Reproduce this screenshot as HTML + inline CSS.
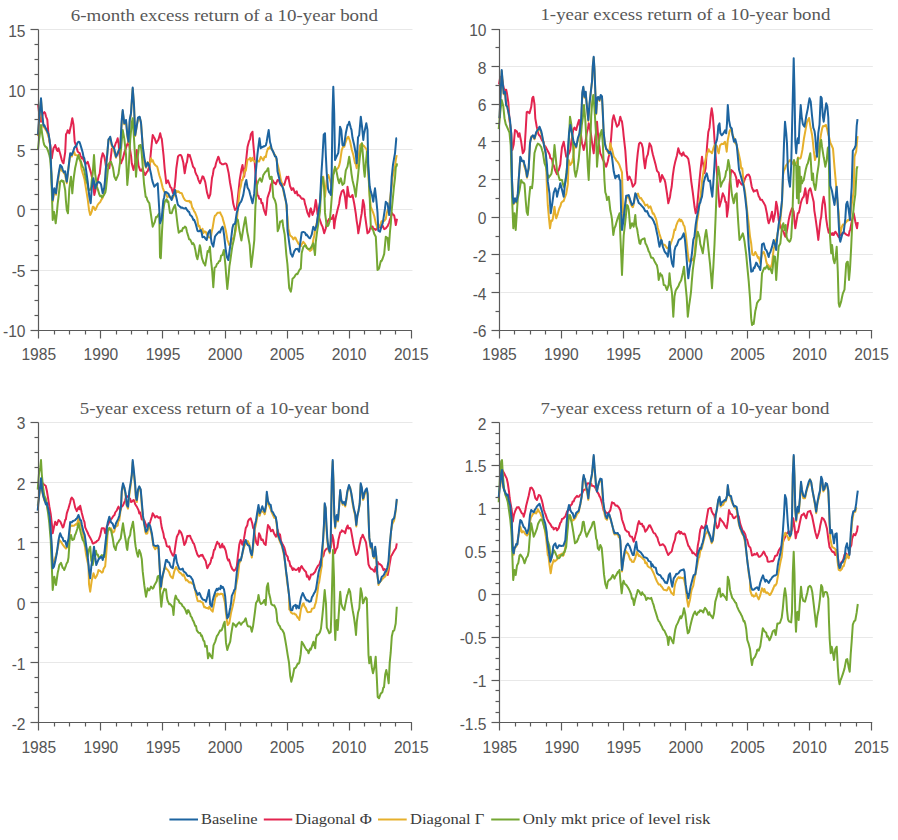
<!DOCTYPE html>
<html><head><meta charset="utf-8"><style>
html,body{margin:0;padding:0;background:#fff;}
svg{display:block;}
.tk{font-family:"Liberation Sans",sans-serif;font-size:15.6px;fill:#555555;}
.tt{font-family:"Liberation Serif",serif;font-size:17px;fill:#585858;}
.lg{font-family:"Liberation Serif",serif;font-size:15px;fill:#3a3a3a;}
</style></head><body>
<svg width="898" height="840" viewBox="0 0 898 840">
<rect width="898" height="840" fill="#fff"/>
<line x1="39.5" y1="270.5" x2="412.5" y2="270.5" stroke="#e8e8e8" stroke-width="1"/>
<line x1="39.5" y1="209.5" x2="412.5" y2="209.5" stroke="#e8e8e8" stroke-width="1"/>
<line x1="39.5" y1="149.5" x2="412.5" y2="149.5" stroke="#e8e8e8" stroke-width="1"/>
<line x1="39.5" y1="89.5" x2="412.5" y2="89.5" stroke="#e8e8e8" stroke-width="1"/>
<line x1="39.5" y1="29.5" x2="412.5" y2="29.5" stroke="#e8e8e8" stroke-width="1"/>
<polyline points="38.0,104.0 39.3,114.5 40.1,118.0 41.0,121.7 42.7,113.9 44.3,112.1 45.2,113.2 46.0,116.6 47.3,119.7 48.5,134.8 49.4,140.8 50.2,144.5 51.8,158.3 52.5,153.6 53.5,148.3 54.6,146.5 55.2,145.0 56.8,150.0 57.7,151.0 58.5,148.3 60.2,153.7 61.8,160.1 62.8,162.6 63.5,163.3 65.2,152.2 66.0,134.2 67.0,132.7 67.7,130.2 69.3,133.3 70.1,129.2 71.0,125.4 72.3,118.3 73.5,124.6 74.7,141.7 76.0,145.6 77.7,151.6 78.4,152.2 79.7,153.1 80.4,155.6 81.8,158.4 82.5,157.3 83.5,159.7 84.3,161.5 86.0,163.6 86.6,163.3 87.7,161.7 88.7,165.1 89.3,167.1 91.0,172.9 91.8,176.5 92.7,179.2 94.3,195.0 96.0,187.5 97.0,184.6 98.0,179.1 99.0,175.1 99.7,173.7 101.3,159.1 102.7,153.3 104.3,156.5 105.3,161.8 106.0,166.7 107.7,164.5 108.4,166.0 109.3,168.3 110.4,160.7 111.8,148.8 112.5,148.6 113.5,147.3 114.3,147.3 116.0,142.5 116.6,141.9 117.7,138.3 118.7,144.0 119.3,153.2 121.0,163.3 121.8,161.0 122.7,159.3 124.3,152.7 126.0,147.9 126.8,145.5 128.5,141.7 130.2,150.6 131.1,156.2 131.8,163.5 133.5,170.0 134.2,166.9 135.2,162.4 136.8,150.0 138.5,165.5 139.4,168.1 140.2,170.5 141.5,170.7 142.7,168.3 143.5,171.3 145.2,175.0 146.8,172.0 147.7,171.1 148.7,168.0 149.3,169.1 151.0,151.1 151.8,143.2 152.7,135.0 153.9,137.2 154.7,138.5 156.3,143.3 157.0,142.1 158.5,139.4 160.2,133.3 161.1,137.4 161.8,139.0 163.5,154.9 164.7,169.1 165.3,174.5 166.3,183.3 167.3,181.7 168.0,180.4 169.7,185.0 170.4,187.3 171.3,187.6 173.0,193.3 174.7,187.0 175.6,177.3 176.3,168.5 178.0,156.5 178.7,155.6 179.7,155.1 180.8,154.9 181.7,156.4 183.3,162.5 184.7,173.3 186.3,163.7 187.0,162.1 188.0,154.5 189.1,156.1 189.7,155.0 191.3,160.3 192.2,163.5 193.0,166.6 194.7,168.7 195.3,172.1 196.3,174.4 197.3,176.1 198.3,179.6 200.0,183.3 201.7,178.9 202.5,176.4 203.3,176.7 204.6,180.1 205.3,182.3 207.0,192.4 207.7,194.8 208.7,198.3 210.3,194.3 212.0,178.0 212.9,174.4 213.7,169.1 215.3,166.6 216.0,163.3 217.0,160.3 218.3,156.7 219.1,158.5 220.0,162.6 221.1,163.4 222.0,164.3 223.7,164.2 225.3,163.4 226.3,163.9 227.0,165.5 228.7,173.3 230.0,182.5 231.7,191.7 232.5,198.3 233.3,203.8 235.0,210.0 235.6,209.0 236.7,208.6 238.0,196.3 238.7,189.7 239.7,180.0 241.3,170.1 242.5,165.0 244.2,176.7 244.9,170.9 245.8,163.3 247.5,147.1 249.1,141.1 250.1,139.1 250.8,134.4 252.5,131.7 253.2,142.6 254.2,154.2 255.8,178.8 257.5,195.6 258.4,195.7 259.2,198.7 260.8,198.9 261.5,203.2 262.5,202.9 263.6,208.5 264.2,210.6 265.8,215.0 266.7,206.6 267.5,197.9 269.2,192.6 269.8,191.1 270.8,185.2 271.8,183.0 272.5,180.0 274.2,183.1 275.0,183.0 275.8,184.3 277.5,180.0 279.1,180.4 280.0,183.6 281.2,185.5 282.2,183.8 283.2,184.3 284.2,185.0 285.3,181.3 286.7,176.7 287.4,178.1 288.3,176.7 290.0,185.9 291.7,190.0 292.5,188.5 293.3,188.3 295.0,193.3 295.6,192.7 296.7,191.3 297.7,195.4 298.3,195.0 299.8,195.8 300.8,197.6 301.9,198.7 302.5,198.4 304.2,199.6 305.0,203.9 305.8,206.3 307.5,212.9 309.2,216.7 310.1,209.9 310.8,208.3 312.5,215.0 313.2,212.9 314.2,210.8 315.8,200.0 316.7,206.0 317.5,214.2 318.4,214.8 319.2,217.8 320.8,222.5 321.5,224.7 322.5,226.6 324.2,233.3 325.8,228.3 326.7,223.8 327.5,221.7 329.2,218.7 329.8,219.3 330.8,218.7 331.7,219.0 333.3,215.0 334.2,228.3 335.0,221.5 335.8,217.2 337.5,210.0 339.2,203.4 340.0,197.5 341.7,191.4 343.3,190.0 344.3,193.6 345.0,197.0 346.3,208.3 347.5,186.7 348.4,192.8 349.2,196.6 350.8,197.1 351.5,195.9 352.5,195.0 354.2,203.5 355.8,213.6 356.7,221.1 357.5,225.8 358.3,233.3 360.0,223.6 360.8,218.2 361.7,213.4 363.0,200.0 364.2,205.2 365.0,215.2 365.8,221.0 367.5,233.3 369.2,231.8 370.1,228.6 370.8,226.7 372.5,226.4 373.2,228.8 374.2,228.7 375.8,229.9 377.5,227.2 378.4,227.2 379.2,226.8 380.8,227.8 381.5,227.1 382.5,225.5 384.2,229.1 385.8,228.3 386.7,227.1 387.5,226.3 389.2,222.3 389.8,219.9 390.8,217.5 391.9,212.9 392.5,214.1 394.2,215.6 395.0,219.8 395.8,225.0 397.0,218.8" fill="none" stroke="#e3244f" stroke-width="2.0" stroke-linejoin="round"/>
<polyline points="38.0,136.1 39.0,123.2 39.7,114.3 41.0,99.8 42.3,117.3 43.5,127.3 44.2,126.0 45.2,129.0 46.8,131.6 48.5,136.5 49.4,140.1 50.2,146.3 51.8,185.6 52.7,201.5 53.5,197.1 54.3,189.8 56.0,194.8 56.6,188.9 57.7,183.5 58.7,175.9 60.2,166.5 61.8,170.8 62.7,170.5 63.9,173.0 65.2,174.5 65.9,179.1 66.8,183.2 68.5,167.7 70.2,154.8 71.1,155.9 71.8,156.5 73.5,151.5 74.2,152.2 75.2,155.1 76.8,155.3 78.5,156.9 79.4,157.5 80.2,159.7 81.5,169.0 82.7,173.2 83.5,175.8 84.6,179.8 85.2,183.8 86.8,193.6 87.7,199.2 89.0,209.7 90.2,215.0 90.8,213.9 91.8,211.4 92.8,206.8 93.5,206.7 95.2,210.0 95.9,208.9 97.0,206.3 97.7,204.8 99.0,203.2 100.2,202.1 101.1,200.1 102.7,197.7 104.3,193.0 105.3,180.5 106.0,166.9 107.3,153.4 108.5,140.0 109.4,138.4 110.2,137.7 111.8,146.0 112.5,147.1 113.5,149.8 114.3,152.1 116.0,157.7 116.6,155.3 117.7,152.1 118.7,150.4 120.2,147.7 120.8,138.9 121.8,121.7 122.7,111.0 124.3,124.3 126.0,121.0 127.3,136.2 128.5,142.7 129.7,122.0 131.0,114.0 131.8,101.2 132.7,88.5 134.0,105.5 135.2,136.0 136.8,126.1 138.0,120.1 139.7,117.7 141.0,122.4 142.7,144.8 143.5,155.3 144.3,162.9 146.0,167.7 146.6,166.0 147.7,162.1 148.7,163.6 149.3,166.0 151.0,158.3 151.8,161.6 152.7,160.2 153.9,163.3 155.2,165.1 156.0,165.8 157.0,166.3 157.7,168.4 159.3,175.3 160.7,179.5 162.7,187.8 164.2,191.7 165.0,192.7 166.3,194.9 167.3,197.0 168.3,196.6 169.4,196.6 170.4,196.6 171.7,198.3 172.5,198.5 173.5,196.4 175.0,194.7 175.6,193.0 176.7,190.8 177.7,191.9 178.3,191.3 179.8,192.8 180.8,193.1 181.8,193.3 183.3,197.2 184.9,200.0 185.8,200.6 187.0,201.1 188.3,201.2 189.1,200.8 190.1,202.5 190.8,201.6 192.2,207.4 193.3,209.1 194.2,211.5 195.0,212.3 196.7,216.7 197.3,218.5 198.3,226.2 199.4,225.8 200.8,231.2 201.5,231.7 202.5,228.8 203.3,233.3 204.6,231.3 205.8,231.9 206.7,234.2 207.7,235.7 208.3,237.3 209.8,237.4 210.8,237.5 211.8,231.1 212.5,228.6 214.2,218.2 214.9,215.7 215.8,215.3 217.5,212.8 219.2,212.8 220.1,212.4 220.8,214.0 222.5,217.4 223.2,220.4 224.2,223.7 225.8,230.5 227.5,240.0 228.4,242.5 229.2,245.0 230.8,244.2 231.5,240.3 232.5,238.8 233.6,237.8 234.2,236.6 235.8,230.2 236.7,221.7 237.5,213.2 239.2,194.0 239.8,189.4 240.8,186.1 241.8,180.1 242.5,180.2 244.2,173.2 244.9,169.7 245.8,170.8 247.5,159.4 249.2,159.3 250.1,157.9 250.8,161.2 252.5,157.8 253.2,160.6 254.2,160.9 255.8,162.5 257.5,160.5 258.4,161.4 259.2,161.4 260.8,156.9 261.5,157.9 262.5,159.0 263.3,160.3 264.6,156.7 265.8,157.2 266.7,152.4 268.0,148.3 268.7,148.9 270.0,146.6 270.8,148.4 272.0,149.3 272.9,151.1 274.2,154.3 275.0,154.7 275.8,157.1 277.5,163.9 279.2,171.0 280.1,176.0 280.8,179.9 282.5,184.8 283.2,189.5 284.2,195.1 285.8,200.9 287.4,216.6 288.3,228.2 290.0,235.3 291.7,236.7 292.5,237.7 293.3,239.4 295.0,237.4 295.6,238.0 296.7,240.5 297.7,242.1 298.3,243.5 300.0,245.2 300.8,246.2 301.7,244.4 303.3,241.8 305.0,243.8 306.0,246.3 306.7,247.6 308.3,249.3 309.1,249.8 310.0,251.0 311.7,249.8 313.3,240.0 314.3,235.4 315.0,230.3 316.7,223.0 317.4,219.5 318.3,215.6 320.0,202.4 321.7,185.3 322.5,178.9 323.3,176.7 325.0,196.7 325.7,189.3 326.7,180.4 327.7,176.1 328.3,175.0 330.0,180.0 330.8,183.0 331.7,186.7 333.3,173.2 333.9,171.0 335.0,168.3 336.0,169.7 336.7,169.7 338.3,167.7 339.1,165.7 340.0,162.1 341.7,150.3 343.3,145.8 344.3,146.8 345.0,143.8 346.7,139.2 347.4,137.6 348.3,136.7 350.0,141.0 351.7,149.4 352.6,152.6 353.3,155.0 355.0,163.1 355.7,163.9 356.7,168.3 357.7,161.3 358.3,159.9 360.0,145.5 360.8,144.2 361.7,143.5 363.3,145.9 363.9,145.7 365.0,147.3 366.0,148.6 366.7,149.3 368.3,173.5 369.7,195.7 370.8,207.0 371.7,209.2 373.3,213.0 374.3,216.2 375.8,223.3 377.5,228.3 378.4,227.4 379.2,226.4 380.8,223.7 381.5,221.3 382.5,221.7 384.2,220.9 385.8,218.8 386.7,213.4 387.5,210.5 389.2,207.0 389.8,200.2 390.8,192.9 391.9,184.9 392.5,177.7 393.9,170.5 395.0,166.6 395.8,159.7 396.7,155.1" fill="none" stroke="#e6b02c" stroke-width="2.0" stroke-linejoin="round"/>
<polyline points="38.0,149.4 39.0,139.8 39.7,135.5 41.0,125.0 42.3,134.8 43.5,141.9 44.2,144.7 45.2,146.4 46.8,147.6 48.5,152.1 49.4,155.2 50.2,159.0 51.3,173.8 52.7,220.0 54.0,211.7 55.7,223.3 56.8,213.7 57.7,203.7 58.5,197.1 60.2,181.6 61.8,180.4 62.8,181.8 63.5,181.0 65.2,190.2 65.9,200.5 66.8,210.2 68.0,213.3 69.3,189.0 70.1,182.5 71.0,176.7 72.3,193.3 73.2,183.0 74.0,176.0 75.2,167.7 76.0,164.2 77.3,158.0 78.5,155.0 79.4,159.2 81.0,161.8 82.5,166.7 83.5,167.9 84.6,172.1 86.0,179.7 86.6,181.4 87.7,185.0 88.5,190.0 89.7,190.1 91.0,188.4 91.8,180.0 92.7,173.7 94.0,155.0 95.2,174.1 95.9,178.5 96.8,186.2 98.0,189.9 99.3,194.4 100.1,196.1 101.1,195.6 101.8,197.5 103.2,196.1 104.3,194.3 105.3,192.6 106.0,188.5 107.3,175.7 108.5,164.5 109.4,162.9 111.0,161.7 113.0,167.8 114.3,176.5 116.0,180.0 116.6,178.4 117.7,175.9 118.5,173.8 120.2,160.8 120.8,151.4 121.8,140.3 122.7,130.0 124.3,138.6 126.0,154.5 127.3,185.0 128.5,171.8 130.2,140.2 131.1,130.3 131.8,122.4 132.7,118.3 134.3,143.4 135.3,161.3 136.0,176.7 137.3,159.4 138.4,152.1 139.0,145.7 140.7,145.0 141.5,151.2 142.3,160.6 144.0,183.5 145.7,196.9 146.6,197.4 147.3,199.9 148.7,202.4 149.3,203.1 151.0,214.9 151.8,220.6 152.7,226.7 153.9,223.9 154.7,222.3 156.0,216.9 156.8,217.2 158.0,215.2 159.3,213.3 160.0,257.2 160.8,258.3 162.0,231.6 163.3,210.3 164.2,204.2 165.0,201.1 166.7,199.3 167.3,202.0 168.3,201.4 170.0,213.1 171.7,213.3 172.5,210.7 173.3,208.5 175.0,205.0 175.6,208.1 176.7,217.5 177.7,225.8 178.7,232.7 179.8,231.9 180.8,230.7 181.8,231.2 182.9,228.1 183.9,228.0 184.9,226.5 186.0,227.4 187.0,232.0 188.1,235.6 189.1,239.3 190.1,239.5 191.2,241.6 192.2,244.1 193.2,243.1 194.3,245.2 195.3,249.7 196.3,255.6 197.4,259.2 198.4,254.6 199.8,245.2 200.5,248.1 201.5,255.8 202.1,258.6 203.6,262.8 204.6,264.2 205.2,265.5 206.7,256.9 207.6,251.1 208.7,251.7 209.9,246.8 210.8,258.3 212.2,270.9 213.3,287.3 214.6,267.8 216.0,266.7 216.9,264.0 218.0,263.2 219.2,260.9 220.1,261.1 221.1,255.7 222.4,255.1 223.2,252.3 223.9,249.9 225.5,266.2 226.3,277.2 227.3,288.9 228.6,275.9 229.4,266.4 230.2,261.3 231.7,250.4 232.5,245.4 234.1,238.6 235.6,225.7 236.4,218.7 237.9,219.8 238.7,225.3 239.5,230.9 241.4,240.5 243.4,227.9 245.4,217.2 247.3,232.1 248.0,235.5 249.7,245.1 251.2,267.0 252.8,254.1 254.3,240.2 255.4,207.0 256.3,194.5 257.0,185.3 258.3,181.1 260.0,178.2 261.7,181.7 262.5,178.7 263.3,175.1 265.0,172.5 265.6,171.6 266.7,171.0 267.7,168.5 268.3,168.3 269.2,176.3 270.0,179.1 270.8,177.0 271.7,176.7 273.3,197.2 275.0,200.5 276.1,204.4 277.0,217.9 277.7,231.2 279.1,227.6 280.1,221.6 281.2,221.7 282.4,220.3 283.2,226.7 284.7,234.8 286.3,254.3 287.4,264.0 288.4,277.4 289.2,288.1 290.8,291.7 291.5,288.0 292.5,278.7 294.2,277.3 295.8,274.6 296.7,273.7 297.5,274.1 299.2,270.4 299.8,269.4 300.8,268.7 301.7,252.9 303.3,246.9 305.0,245.3 306.0,245.9 306.7,248.0 308.3,248.9 309.1,248.9 310.0,248.8 311.7,246.4 313.3,243.3 314.3,250.4 315.0,255.0 315.8,241.8 316.7,234.7 317.4,229.7 318.3,223.9 320.0,211.1 320.8,193.5 321.7,176.7 323.0,177.8 324.2,187.8 325.0,212.9 325.7,217.9 326.7,226.3 327.7,226.1 328.3,225.4 329.7,221.1 330.8,209.7 332.0,194.0 333.3,174.4 333.9,173.4 335.0,166.7 336.0,169.8 336.7,172.4 338.0,179.4 339.2,183.3 340.1,179.6 340.8,178.3 342.5,185.0 343.2,184.1 344.2,183.3 345.8,170.4 347.5,166.7 348.4,161.3 349.2,156.7 350.8,167.7 351.5,173.8 352.5,180.2 354.2,187.3 355.8,196.7 356.7,187.0 357.7,178.9 358.3,173.0 359.7,158.4 360.8,149.5 362.0,143.3 363.3,160.2 363.9,169.4 364.7,176.7 365.8,163.5 367.0,151.7 368.3,167.0 369.7,196.7 370.8,226.9 372.5,229.5 373.2,230.2 374.2,233.8 375.8,236.8 376.7,253.4 377.5,270.0 378.4,269.5 379.2,268.0 380.8,260.9 381.5,261.2 382.5,259.0 384.2,253.9 385.8,236.7 386.7,237.8 387.5,237.7 388.7,250.0 390.0,231.3 390.8,223.7 391.7,210.4 393.3,193.7 393.9,187.2 395.0,178.1 395.8,167.2 396.7,165.8 397.0,163.3" fill="none" stroke="#74a733" stroke-width="2.0" stroke-linejoin="round"/>
<polyline points="38.0,134.6 39.0,119.5 39.7,113.3 41.0,98.3 42.3,115.0 43.5,125.7 44.2,125.0 45.2,127.2 46.8,130.3 48.5,133.9 49.4,138.6 50.2,145.5 51.8,182.7 52.7,200.0 53.5,194.3 54.3,188.3 56.0,193.3 56.6,187.5 57.7,179.7 58.7,173.3 60.2,165.0 61.8,166.6 62.7,169.6 63.9,172.3 65.2,171.4 65.9,177.1 66.8,181.7 68.5,167.6 70.2,153.3 71.1,153.4 71.8,155.0 73.5,150.7 74.2,148.1 75.2,146.5 76.0,146.8 77.3,143.2 78.5,141.7 79.4,141.9 80.2,144.0 81.5,148.4 82.7,152.5 83.5,156.7 84.3,158.2 86.0,169.3 86.6,173.6 87.7,181.7 88.7,191.0 89.3,196.3 90.7,203.3 91.8,187.8 92.8,180.3 93.5,178.3 95.2,188.3 95.9,185.9 96.8,183.5 98.5,181.8 100.1,182.9 101.0,184.2 102.7,193.3 104.3,187.5 105.3,177.0 106.0,166.6 107.3,153.9 108.5,139.4 109.4,138.3 110.2,136.7 111.8,144.4 112.5,145.9 113.5,147.6 114.3,149.0 116.0,156.7 116.6,155.8 117.7,153.3 118.7,150.5 120.2,147.8 120.8,136.3 121.8,119.4 122.7,110.0 124.3,123.3 126.0,120.0 127.3,134.3 128.5,141.7 129.7,119.8 131.0,113.1 131.8,100.8 132.7,87.5 134.0,105.0 135.2,135.0 136.8,125.6 138.0,117.7 139.7,116.7 141.0,122.8 142.7,146.1 143.5,151.8 144.3,157.6 146.0,166.7 146.6,166.0 147.7,162.6 148.7,164.1 149.3,166.6 151.0,173.8 151.8,178.2 152.7,182.2 154.3,186.7 156.0,184.8 157.0,183.9 157.7,183.3 159.1,206.9 160.0,223.3 161.7,218.5 163.3,200.5 164.2,197.2 165.0,192.0 166.7,192.2 167.3,193.2 168.3,193.5 170.0,197.3 171.7,200.0 172.5,196.0 173.3,195.3 175.0,190.0 175.6,194.2 176.7,199.0 177.7,204.1 178.3,205.3 179.8,206.5 180.8,207.7 181.8,207.5 183.3,208.2 184.9,208.5 185.8,207.8 187.0,209.9 188.3,211.5 189.1,211.9 190.1,215.0 190.8,215.3 192.2,217.0 193.3,219.9 194.2,219.8 195.8,224.2 197.5,230.8 198.4,231.3 199.2,231.2 200.8,230.0 201.5,232.0 202.5,237.3 203.6,236.9 204.2,236.7 205.6,238.9 206.7,240.0 207.7,235.2 208.3,232.5 210.0,230.0 210.8,237.6 211.7,243.0 213.3,246.7 215.0,236.5 216.0,235.1 217.5,233.4 219.1,231.6 220.0,232.6 221.1,229.3 222.5,226.7 223.2,228.8 224.2,235.9 225.8,250.5 227.0,257.3 228.3,260.0 230.0,247.6 231.7,233.9 232.5,227.7 233.3,224.7 235.0,223.7 235.6,220.5 236.7,213.1 237.7,209.6 238.3,206.8 240.0,202.9 240.8,202.1 241.7,200.2 243.3,194.9 245.0,184.4 246.3,180.0 247.5,187.5 249.2,190.5 250.1,194.2 250.8,196.8 252.5,203.3 253.2,199.9 254.2,193.9 255.3,177.4 256.7,162.5 257.4,154.6 258.3,147.3 259.5,138.3 260.8,148.3 261.5,147.1 262.5,147.3 263.6,146.2 264.2,146.4 265.8,145.5 266.7,141.7 267.5,136.4 268.7,130.0 270.0,142.0 270.8,144.7 271.7,149.0 273.3,151.9 275.0,156.3 276.0,156.6 276.7,159.1 277.5,171.2 279.2,178.3 280.1,183.1 280.8,183.2 282.2,186.4 283.3,189.0 284.3,193.3 285.0,196.8 286.7,205.1 287.5,230.5 288.4,236.5 289.2,242.8 290.8,253.9 291.5,254.7 292.5,256.7 294.2,251.4 295.8,249.0 296.7,248.9 297.5,248.8 299.2,251.7 299.8,246.5 300.8,239.0 301.7,232.5 303.3,231.9 305.0,232.6 306.0,235.2 306.7,234.5 308.3,236.9 309.1,237.8 310.0,238.3 311.7,234.6 313.3,226.7 314.3,228.4 315.0,230.0 316.7,224.8 317.4,218.8 318.3,212.1 320.0,201.8 320.8,185.4 321.5,171.9 322.5,156.5 323.7,134.7 325.0,133.3 325.8,154.6 326.7,172.6 328.0,188.6 329.2,192.5 329.8,192.5 330.8,195.0 331.7,172.1 332.5,113.2 333.3,86.7 334.2,112.8 335.0,160.0 336.0,157.8 336.7,156.2 338.3,152.9 339.2,142.5 340.0,126.7 341.3,130.1 342.5,145.2 343.2,145.5 344.2,145.0 345.8,133.3 347.5,125.2 348.4,124.6 349.2,121.7 350.8,127.8 351.5,129.8 352.5,137.8 354.2,145.0 355.8,154.0 356.7,163.3 358.0,137.4 359.2,135.1 359.8,128.1 360.8,116.7 362.0,126.3 363.3,140.0 363.9,134.6 364.7,130.8 366.3,123.3 367.5,129.9 368.3,166.5 369.7,186.5 370.8,191.4 372.0,195.3 373.3,201.7 374.3,192.6 375.0,188.3 376.3,199.7 377.5,212.4 378.3,230.6 380.0,231.7 381.7,225.4 382.6,223.6 383.3,219.6 385.0,208.4 385.8,201.7 386.7,203.3 387.5,203.2 389.2,215.0 390.0,209.0 390.8,193.4 391.7,177.1 393.0,164.6 393.9,159.4 395.0,153.3 396.3,138.3 397.0,138.2" fill="none" stroke="#1d64a0" stroke-width="2.0" stroke-linejoin="round"/>
<line x1="38.5" y1="29.5" x2="38.5" y2="331.0" stroke="#5a5a5a" stroke-width="1.2"/>
<line x1="38.0" y1="330.5" x2="411.9" y2="330.5" stroke="#5a5a5a" stroke-width="1.2"/>
<line x1="30.5" y1="330.5" x2="38.5" y2="330.5" stroke="#5a5a5a" stroke-width="1.2"/>
<text x="25.5" y="337.3" text-anchor="end" class="tk">-10</text>
<line x1="34.5" y1="315.5" x2="38.5" y2="315.5" stroke="#5a5a5a" stroke-width="1.2"/>
<line x1="34.5" y1="300.5" x2="38.5" y2="300.5" stroke="#5a5a5a" stroke-width="1.2"/>
<line x1="34.5" y1="285.5" x2="38.5" y2="285.5" stroke="#5a5a5a" stroke-width="1.2"/>
<line x1="30.5" y1="270.5" x2="38.5" y2="270.5" stroke="#5a5a5a" stroke-width="1.2"/>
<text x="25.5" y="277.1" text-anchor="end" class="tk">-5</text>
<line x1="34.5" y1="255.5" x2="38.5" y2="255.5" stroke="#5a5a5a" stroke-width="1.2"/>
<line x1="34.5" y1="240.5" x2="38.5" y2="240.5" stroke="#5a5a5a" stroke-width="1.2"/>
<line x1="34.5" y1="225.5" x2="38.5" y2="225.5" stroke="#5a5a5a" stroke-width="1.2"/>
<line x1="30.5" y1="209.5" x2="38.5" y2="209.5" stroke="#5a5a5a" stroke-width="1.2"/>
<text x="25.5" y="217.0" text-anchor="end" class="tk">0</text>
<line x1="34.5" y1="194.5" x2="38.5" y2="194.5" stroke="#5a5a5a" stroke-width="1.2"/>
<line x1="34.5" y1="179.5" x2="38.5" y2="179.5" stroke="#5a5a5a" stroke-width="1.2"/>
<line x1="34.5" y1="164.5" x2="38.5" y2="164.5" stroke="#5a5a5a" stroke-width="1.2"/>
<line x1="30.5" y1="149.5" x2="38.5" y2="149.5" stroke="#5a5a5a" stroke-width="1.2"/>
<text x="25.5" y="156.8" text-anchor="end" class="tk">5</text>
<line x1="34.5" y1="134.5" x2="38.5" y2="134.5" stroke="#5a5a5a" stroke-width="1.2"/>
<line x1="34.5" y1="119.5" x2="38.5" y2="119.5" stroke="#5a5a5a" stroke-width="1.2"/>
<line x1="34.5" y1="104.5" x2="38.5" y2="104.5" stroke="#5a5a5a" stroke-width="1.2"/>
<line x1="30.5" y1="89.5" x2="38.5" y2="89.5" stroke="#5a5a5a" stroke-width="1.2"/>
<text x="25.5" y="96.7" text-anchor="end" class="tk">10</text>
<line x1="34.5" y1="74.5" x2="38.5" y2="74.5" stroke="#5a5a5a" stroke-width="1.2"/>
<line x1="34.5" y1="59.5" x2="38.5" y2="59.5" stroke="#5a5a5a" stroke-width="1.2"/>
<line x1="34.5" y1="44.5" x2="38.5" y2="44.5" stroke="#5a5a5a" stroke-width="1.2"/>
<line x1="30.5" y1="29.5" x2="38.5" y2="29.5" stroke="#5a5a5a" stroke-width="1.2"/>
<text x="25.5" y="36.5" text-anchor="end" class="tk">15</text>
<line x1="38.5" y1="330.5" x2="38.5" y2="338.5" stroke="#5a5a5a" stroke-width="1.2"/>
<text x="38.8" y="360.2" text-anchor="middle" class="tk">1985</text>
<line x1="54.5" y1="330.5" x2="54.5" y2="334.5" stroke="#5a5a5a" stroke-width="1.2"/>
<line x1="69.5" y1="330.5" x2="69.5" y2="334.5" stroke="#5a5a5a" stroke-width="1.2"/>
<line x1="85.5" y1="330.5" x2="85.5" y2="334.5" stroke="#5a5a5a" stroke-width="1.2"/>
<line x1="100.5" y1="330.5" x2="100.5" y2="338.5" stroke="#5a5a5a" stroke-width="1.2"/>
<text x="100.9" y="360.2" text-anchor="middle" class="tk">1990</text>
<line x1="116.5" y1="330.5" x2="116.5" y2="334.5" stroke="#5a5a5a" stroke-width="1.2"/>
<line x1="131.5" y1="330.5" x2="131.5" y2="334.5" stroke="#5a5a5a" stroke-width="1.2"/>
<line x1="147.5" y1="330.5" x2="147.5" y2="334.5" stroke="#5a5a5a" stroke-width="1.2"/>
<line x1="162.5" y1="330.5" x2="162.5" y2="338.5" stroke="#5a5a5a" stroke-width="1.2"/>
<text x="163.0" y="360.2" text-anchor="middle" class="tk">1995</text>
<line x1="178.5" y1="330.5" x2="178.5" y2="334.5" stroke="#5a5a5a" stroke-width="1.2"/>
<line x1="194.5" y1="330.5" x2="194.5" y2="334.5" stroke="#5a5a5a" stroke-width="1.2"/>
<line x1="209.5" y1="330.5" x2="209.5" y2="334.5" stroke="#5a5a5a" stroke-width="1.2"/>
<line x1="225.5" y1="330.5" x2="225.5" y2="338.5" stroke="#5a5a5a" stroke-width="1.2"/>
<text x="225.1" y="360.2" text-anchor="middle" class="tk">2000</text>
<line x1="240.5" y1="330.5" x2="240.5" y2="334.5" stroke="#5a5a5a" stroke-width="1.2"/>
<line x1="256.5" y1="330.5" x2="256.5" y2="334.5" stroke="#5a5a5a" stroke-width="1.2"/>
<line x1="271.5" y1="330.5" x2="271.5" y2="334.5" stroke="#5a5a5a" stroke-width="1.2"/>
<line x1="287.5" y1="330.5" x2="287.5" y2="338.5" stroke="#5a5a5a" stroke-width="1.2"/>
<text x="287.1" y="360.2" text-anchor="middle" class="tk">2005</text>
<line x1="302.5" y1="330.5" x2="302.5" y2="334.5" stroke="#5a5a5a" stroke-width="1.2"/>
<line x1="318.5" y1="330.5" x2="318.5" y2="334.5" stroke="#5a5a5a" stroke-width="1.2"/>
<line x1="333.5" y1="330.5" x2="333.5" y2="334.5" stroke="#5a5a5a" stroke-width="1.2"/>
<line x1="349.5" y1="330.5" x2="349.5" y2="338.5" stroke="#5a5a5a" stroke-width="1.2"/>
<text x="349.2" y="360.2" text-anchor="middle" class="tk">2010</text>
<line x1="364.5" y1="330.5" x2="364.5" y2="334.5" stroke="#5a5a5a" stroke-width="1.2"/>
<line x1="380.5" y1="330.5" x2="380.5" y2="334.5" stroke="#5a5a5a" stroke-width="1.2"/>
<line x1="395.5" y1="330.5" x2="395.5" y2="334.5" stroke="#5a5a5a" stroke-width="1.2"/>
<line x1="411.5" y1="330.5" x2="411.5" y2="338.5" stroke="#5a5a5a" stroke-width="1.2"/>
<text x="411.3" y="360.2" text-anchor="middle" class="tk">2015</text>
<text x="224.4" y="20.7" text-anchor="middle" class="tt" textLength="307.3" lengthAdjust="spacingAndGlyphs">6-month excess return of a 10-year bond</text>
<line x1="500.5" y1="292.5" x2="872.8" y2="292.5" stroke="#e8e8e8" stroke-width="1"/>
<line x1="500.5" y1="254.5" x2="872.8" y2="254.5" stroke="#e8e8e8" stroke-width="1"/>
<line x1="500.5" y1="217.5" x2="872.8" y2="217.5" stroke="#e8e8e8" stroke-width="1"/>
<line x1="500.5" y1="179.5" x2="872.8" y2="179.5" stroke="#e8e8e8" stroke-width="1"/>
<line x1="500.5" y1="141.5" x2="872.8" y2="141.5" stroke="#e8e8e8" stroke-width="1"/>
<line x1="500.5" y1="104.5" x2="872.8" y2="104.5" stroke="#e8e8e8" stroke-width="1"/>
<line x1="500.5" y1="66.5" x2="872.8" y2="66.5" stroke="#e8e8e8" stroke-width="1"/>
<line x1="500.5" y1="29.5" x2="872.8" y2="29.5" stroke="#e8e8e8" stroke-width="1"/>
<polyline points="499.0,84.4 500.3,76.7 501.1,78.7 502.0,78.9 503.7,87.9 505.3,90.7 506.2,89.8 507.0,93.6 508.3,102.3 509.5,119.8 510.4,126.3 511.2,133.3 512.3,150.0 513.7,144.5 515.0,130.0 516.7,131.2 517.6,133.4 518.3,136.7 519.5,133.3 521.2,141.8 522.8,153.3 523.8,151.7 524.5,149.7 525.7,130.0 526.7,112.2 527.8,111.8 529.5,113.3 531.2,107.1 532.3,98.1 533.3,96.7 534.5,104.2 535.3,118.3 536.7,126.5 538.3,133.7 539.3,135.4 540.0,135.8 541.7,139.7 542.4,140.9 543.7,142.3 544.5,146.5 545.3,146.3 547.0,149.5 548.7,152.8 549.7,154.8 550.3,158.1 552.0,159.0 552.8,164.0 553.7,165.3 555.3,170.6 557.0,174.2 557.9,171.2 558.7,170.3 560.3,164.5 561.0,156.5 562.0,147.2 563.7,141.7 565.0,149.7 566.2,156.7 567.8,155.7 569.5,152.3 570.3,149.6 571.2,142.5 572.8,132.6 573.4,129.2 574.5,127.5 575.5,129.6 576.2,130.0 577.8,123.8 579.0,120.0 579.6,124.1 580.3,129.0 582.0,143.2 582.7,145.4 583.7,150.0 585.3,142.8 587.0,131.9 587.9,128.7 588.7,123.3 590.3,130.6 591.0,134.3 592.0,142.2 593.7,153.3 595.3,136.9 596.2,130.9 597.0,121.7 598.7,142.9 599.3,146.1 600.3,153.6 601.4,155.4 602.8,159.3 604.5,162.8 605.5,165.4 606.2,166.7 607.8,161.2 608.6,157.0 609.5,154.1 611.2,137.3 612.5,119.9 613.7,115.2 615.3,120.9 617.0,126.7 617.9,125.4 618.7,124.7 620.3,116.7 621.0,119.3 622.0,121.7 623.1,130.0 623.7,136.3 625.3,150.4 626.7,170.4 627.8,180.0 629.5,176.6 630.3,178.6 631.2,180.3 632.8,186.7 634.4,184.6 635.3,183.0 636.7,163.6 637.8,152.7 639.0,143.8 639.6,143.1 640.3,142.5 641.7,143.9 642.8,148.1 643.7,158.5 645.0,168.3 646.2,159.3 646.8,156.6 647.8,154.6 649.5,143.3 651.2,146.3 652.0,150.6 652.8,154.3 654.5,160.4 655.7,165.1 657.0,170.8 658.7,172.7 660.3,181.7 661.3,178.5 662.0,175.0 663.7,178.5 664.4,179.4 665.3,182.5 667.0,193.7 668.3,203.3 670.0,197.0 670.6,192.4 671.7,186.5 672.8,175.6 674.0,167.4 675.3,161.4 677.0,155.3 678.3,148.3 680.0,153.7 681.0,153.7 681.7,155.8 683.3,152.4 684.1,154.9 685.0,155.6 686.7,156.7 688.3,158.9 689.5,165.9 690.3,172.7 691.2,181.0 692.8,192.5 694.5,206.5 695.7,213.3 697.0,208.2 698.7,189.0 699.6,179.1 700.3,172.0 702.0,156.7 702.7,162.4 703.3,164.1 704.5,173.3 705.7,167.7 707.0,146.5 708.3,132.0 709.5,127.7 710.7,115.5 711.7,108.3 712.8,115.5 713.7,127.1 714.5,139.5 715.7,157.0 717.0,174.0 718.3,192.1 719.5,206.7 720.3,203.7 721.2,200.5 722.8,193.3 724.5,197.1 725.4,202.1 726.2,202.0 727.0,216.7 728.3,207.1 729.5,184.4 731.2,170.0 732.8,171.3 733.7,172.7 734.5,173.1 736.2,177.7 737.3,186.7 738.7,180.0 739.9,182.0 741.2,184.0 742.0,184.7 743.0,183.3 743.7,182.3 745.1,178.3 746.2,176.2 747.1,174.9 748.7,174.5 750.0,177.0 751.7,186.5 752.3,188.5 753.7,191.6 754.4,190.6 755.3,190.9 757.0,190.0 758.7,196.3 759.5,197.4 760.3,199.7 762.0,199.8 762.6,200.9 763.7,202.7 764.7,204.6 765.3,205.7 767.0,214.0 767.8,219.5 768.7,223.3 770.3,218.9 772.0,211.7 773.3,221.7 774.0,218.3 775.0,213.8 776.2,201.7 777.3,206.9 778.7,220.1 780.3,224.6 781.3,228.4 782.0,229.6 783.7,232.0 784.4,234.5 785.3,236.7 786.7,231.9 787.5,227.7 788.7,220.1 789.5,216.2 790.3,213.2 792.0,208.3 792.6,208.5 793.7,211.9 794.7,223.4 795.3,228.3 796.7,219.8 797.8,213.1 798.8,212.7 799.5,209.9 800.9,202.6 802.0,199.3 803.0,197.4 803.7,196.9 805.3,188.3 806.1,194.1 807.0,203.3 808.7,191.1 810.3,188.3 811.2,191.4 812.0,194.9 813.7,202.0 814.3,210.3 815.3,216.7 817.0,228.8 818.3,240.0 819.5,228.7 820.5,219.9 821.2,217.1 822.3,204.8 823.7,196.7 825.0,204.5 826.2,218.6 827.3,226.2 828.7,232.8 830.3,232.7 832.0,234.9 832.9,233.1 833.7,235.0 835.3,231.7 836.0,232.5 837.0,234.0 838.7,237.0 840.3,234.8 841.2,233.3 842.0,234.5 843.7,231.7 844.3,232.7 845.3,233.8 846.4,234.6 847.0,235.0 848.7,235.6 849.5,231.4 850.3,229.3 852.0,220.2 853.7,213.3 854.7,218.1 855.3,221.5 857.0,228.3 857.8,222.2" fill="none" stroke="#e3244f" stroke-width="2.0" stroke-linejoin="round"/>
<polyline points="499.5,118.7 500.7,94.1 501.7,71.0 502.8,84.5 503.7,94.3 505.0,92.7 506.2,105.5 507.3,106.7 508.7,114.1 510.0,122.9 511.2,134.9 512.0,180.1 512.8,196.8 513.7,204.3 515.0,199.3 516.2,202.7 517.1,198.7 517.8,194.9 518.7,180.2 520.3,157.7 521.2,159.8 522.0,160.8 523.7,161.8 524.3,166.3 525.3,168.9 526.4,174.5 527.0,177.7 528.7,168.9 530.0,142.9 531.2,136.5 532.8,137.0 533.6,137.8 534.5,139.3 536.2,133.3 537.8,129.4 538.8,130.2 539.5,127.7 541.2,133.0 541.9,135.7 542.8,139.5 544.5,146.8 545.7,154.5 547.0,189.2 547.8,205.2 549.0,218.7 550.0,228.3 551.2,220.4 552.2,220.8 552.8,218.9 554.5,206.7 555.3,213.5 556.2,218.3 557.8,213.8 558.4,211.4 559.5,207.9 560.5,206.1 561.2,203.0 562.8,201.2 563.6,201.2 564.5,198.4 566.2,193.8 567.8,184.4 568.7,160.0 570.3,165.0 572.0,162.5 572.9,157.9 573.7,152.8 574.5,144.3 576.2,147.7 577.0,143.0 577.8,141.2 579.5,133.8 580.1,128.2 581.2,121.2 582.3,94.5 583.3,87.7 584.5,97.7 585.7,92.7 586.3,100.4 587.0,107.7 588.3,121.0 589.5,106.1 590.7,92.9 592.0,82.1 592.8,67.0 593.7,57.7 594.5,71.0 595.3,92.1 596.2,114.3 597.0,101.1 597.7,98.2 598.3,97.8 599.5,101.0 600.7,96.0 602.0,96.9 602.8,114.7 603.7,134.7 605.0,143.3 606.2,148.5 607.0,151.2 607.8,151.6 609.0,154.3 610.3,143.3 611.2,147.3 612.0,149.0 613.7,156.5 615.3,158.5 616.2,160.4 617.4,161.5 618.7,163.6 619.4,165.0 620.3,167.6 622.0,172.3 623.3,223.2 624.5,211.4 626.2,198.5 627.7,196.8 628.7,196.5 630.3,202.9 632.0,206.5 632.9,207.2 633.7,204.5 635.3,194.4 636.0,194.5 637.0,194.9 638.0,193.6 638.7,196.1 640.1,198.4 641.2,198.1 642.2,200.2 643.7,202.1 645.3,205.6 646.2,204.9 647.3,204.6 648.7,207.9 649.4,207.1 650.4,206.3 651.2,208.6 652.8,213.6 653.5,213.3 654.5,215.3 656.2,219.5 657.8,227.9 658.7,231.1 659.5,234.1 661.2,239.3 661.8,241.5 662.8,244.9 663.9,244.8 664.5,244.7 666.0,246.7 667.0,248.2 668.0,247.8 669.5,247.7 671.2,242.3 672.2,239.1 672.8,237.9 674.5,229.4 675.3,229.9 676.2,225.6 677.8,221.5 679.5,219.1 680.4,221.3 681.2,219.8 682.8,222.4 683.5,225.0 684.5,226.3 685.7,233.8 687.0,245.4 687.7,252.2 688.3,257.6 689.5,261.7 691.2,260.7 691.8,258.6 692.8,260.1 693.9,257.5 694.5,255.6 695.7,239.0 697.0,221.9 698.3,214.7 699.5,202.5 700.7,195.3 702.0,181.1 703.7,169.9 705.3,160.5 706.3,155.8 707.0,153.6 708.7,149.3 709.4,151.5 710.3,151.4 712.0,153.3 713.7,147.3 714.5,145.3 715.3,144.7 717.0,146.3 717.7,150.7 718.7,153.3 720.0,145.7 720.8,144.6 721.7,143.7 723.3,144.1 725.0,141.7 725.9,146.3 726.7,151.7 727.8,140.1 729.5,131.2 731.2,128.3 732.1,133.8 732.8,135.5 734.5,139.5 735.2,143.2 736.2,144.0 737.8,149.6 739.5,157.2 740.4,161.6 741.2,168.5 742.3,168.2 743.7,185.0 744.5,188.5 745.3,193.6 747.0,209.6 747.6,214.6 748.7,223.7 750.0,236.5 751.2,243.5 752.3,254.5 753.7,255.2 755.3,252.0 757.0,255.5 758.0,257.9 758.7,257.1 760.3,263.3 761.1,258.6 762.0,254.0 763.7,251.7 765.3,256.4 766.2,261.4 767.0,264.1 768.7,265.6 769.3,267.1 770.3,268.3 772.0,263.8 773.7,248.6 774.5,246.5 775.3,241.7 777.0,237.5 777.6,233.0 778.7,229.1 779.7,223.3 780.3,221.1 782.0,202.8 783.0,175.3 783.8,170.8 784.9,168.8 786.0,165.4 786.9,164.4 788.0,162.8 789.0,161.4 790.0,160.0 791.1,160.7 792.1,162.2 793.1,163.9 794.0,165.0 795.2,163.9 796.2,163.0 797.3,161.2 798.0,157.4 799.3,158.5 800.4,158.5 801.0,156.9 802.4,149.9 804.0,138.2 805.5,130.1 807.0,121.9 809.0,118.0 809.7,122.4 810.7,128.3 812.0,134.5 812.8,141.0 813.8,150.9 815.0,160.0 815.9,157.0 816.9,155.4 818.0,151.6 819.0,147.2 820.0,141.4 821.0,134.4 822.1,128.7 823.0,126.1 824.1,126.2 825.2,125.4 826.0,125.0 827.2,129.2 828.3,134.5 829.0,136.7 830.3,142.7 831.4,145.0 833.0,148.7 834.5,167.4 835.5,178.4 836.5,190.4 837.6,203.6 838.6,212.6 839.6,226.3 840.3,233.3 842.0,226.4 842.8,224.6 843.7,225.1 845.3,223.0 847.0,221.0 847.9,220.0 848.7,220.4 850.3,217.8 851.0,210.2 852.0,202.3 853.7,191.3 854.5,156.6 855.2,154.4 856.2,151.5 857.5,136.1" fill="none" stroke="#e6b02c" stroke-width="2.0" stroke-linejoin="round"/>
<polyline points="498.7,129.2 499.7,118.6 500.3,112.1 501.7,100.0 503.3,106.3 504.5,118.2 505.7,124.0 507.0,126.8 508.3,129.8 509.5,132.7 510.7,145.4 512.3,203.9 513.3,228.3 514.5,213.3 515.7,230.0 516.7,214.9 517.8,198.3 519.5,190.3 520.4,184.5 521.2,180.0 522.4,182.6 523.5,182.6 524.5,184.1 525.7,200.5 526.7,211.9 527.8,215.0 529.0,199.1 529.7,192.2 530.3,186.7 532.0,188.3 532.8,181.2 533.8,163.1 534.5,153.0 536.2,147.2 536.9,145.4 537.8,143.6 539.5,144.7 541.2,147.0 542.1,150.2 542.8,152.4 544.5,163.2 545.2,165.0 546.2,167.7 547.3,173.8 548.7,177.8 549.3,176.6 550.3,175.5 551.4,173.8 552.0,170.0 553.7,156.4 554.5,145.0 554.5,145.0 555.7,157.1 557.0,170.9 557.6,172.3 558.7,176.5 559.7,180.1 560.3,179.7 562.0,179.9 562.8,183.7 563.7,186.7 565.3,181.8 567.0,167.6 567.9,153.7 568.7,144.0 570.0,116.7 571.2,123.7 572.1,134.7 572.8,141.3 574.5,170.3 575.7,176.7 577.3,169.4 578.7,159.5 579.3,152.9 580.3,142.6 581.7,125.7 582.8,117.9 584.0,105.0 585.3,120.0 586.7,144.2 587.8,166.8 588.7,180.0 590.0,150.4 591.2,116.1 592.3,100.9 593.3,95.0 594.5,108.6 596.2,137.0 597.0,166.7 597.9,154.9 598.7,143.9 600.3,133.5 601.0,132.4 601.7,130.0 602.8,143.0 604.5,181.0 605.3,192.2 606.2,194.9 607.0,200.0 608.7,196.7 609.3,201.1 610.3,210.3 610.3,210.3 611.4,215.6 612.0,219.7 613.3,235.0 614.5,228.2 615.5,226.0 616.2,223.2 617.8,217.9 618.6,216.0 619.5,213.3 620.3,234.7 621.2,254.7 622.0,275.0 622.8,255.5 623.7,235.5 625.3,221.5 627.0,205.0 627.9,205.9 628.7,209.4 630.3,228.3 631.0,226.2 632.0,223.3 633.7,226.7 635.3,215.0 636.2,226.0 637.2,229.3 637.8,233.4 639.5,243.3 640.3,243.9 641.2,240.1 642.8,239.0 644.5,238.3 645.5,243.6 646.2,244.4 647.8,248.4 648.6,251.1 649.5,252.5 651.2,257.7 652.8,257.8 653.8,259.6 654.5,261.2 656.2,264.3 656.9,265.2 657.8,269.9 658.7,280.0 660.3,273.3 661.0,275.4 662.0,275.3 663.1,280.2 663.7,285.0 665.3,285.4 666.2,288.2 667.0,290.0 668.7,284.6 669.5,273.3 670.7,285.8 671.3,288.4 672.0,293.1 673.3,316.7 674.5,296.3 675.5,291.2 676.2,289.6 677.8,287.1 678.6,285.8 679.5,283.2 681.2,280.3 682.8,273.0 684.0,266.7 685.3,282.7 686.7,297.1 687.8,316.7 689.0,306.4 690.3,297.4 691.0,291.8 691.7,282.6 692.8,269.8 694.0,260.9 695.3,252.4 696.7,238.7 697.8,231.7 699.5,237.4 700.3,244.1 701.2,247.0 702.8,253.3 704.5,240.2 705.4,234.0 706.2,230.0 707.5,239.8 708.7,251.6 710.0,263.7 711.2,277.3 712.0,288.3 712.7,276.0 713.3,267.4 714.5,244.5 715.7,214.8 717.0,181.0 718.3,166.7 719.5,173.5 720.7,186.7 722.0,183.0 723.0,181.0 723.7,180.5 725.3,176.3 726.1,171.2 727.0,170.0 728.3,160.0 729.5,166.1 730.7,183.3 731.3,189.1 732.0,195.0 733.7,203.3 734.4,201.2 735.3,195.0 736.7,193.3 737.3,207.8 738.3,223.2 739.5,240.0 741.2,237.0 742.8,233.3 743.7,236.7 744.5,241.2 746.2,254.6 747.3,266.6 748.7,281.1 750.0,298.0 751.2,318.4 752.0,325.0 753.0,322.7 753.7,323.9 755.3,311.1 756.1,308.1 757.0,303.1 758.7,300.5 760.3,299.1 761.2,286.9 762.0,273.4 763.7,269.2 764.4,267.7 765.3,268.7 767.0,265.8 768.7,269.2 769.5,269.3 770.3,268.3 772.0,273.3 772.7,268.2 773.7,256.2 775.0,256.7 776.2,280.0 777.3,263.1 778.7,246.4 780.3,243.6 782.0,227.3 783.3,223.3 784.5,230.0 785.7,225.0 786.7,237.5 787.8,240.0 789.5,241.7 790.2,240.9 791.2,237.4 792.3,218.2 793.3,186.2 794.0,160.0 795.4,165.3 796.2,165.5 797.0,198.3 797.8,158.3 798.7,203.3 799.5,166.7 800.3,191.7 801.2,176.7 802.0,183.3 802.6,181.7 803.7,180.2 804.7,174.9 805.7,169.7 807.0,164.8 807.8,163.4 808.7,159.7 810.3,153.3 812.0,180.0 813.0,173.4 813.7,183.3 815.3,190.0 816.1,185.0 817.1,175.1 818.7,164.3 820.3,142.8 821.2,140.0 822.0,146.7 823.7,157.3 824.3,160.3 825.3,166.7 826.7,160.3 827.8,148.1 828.7,146.7 830.0,236.2 831.2,253.3 832.0,245.0 832.6,249.6 833.3,259.0 834.5,263.3 835.7,257.0 836.7,246.7 837.8,271.7 838.7,303.2 839.5,306.7 841.2,301.4 841.9,297.8 842.8,293.6 844.5,289.6 846.2,263.7 847.1,262.0 847.8,261.7 849.0,280.0 850.0,269.1 851.2,246.8 852.3,222.2 853.7,207.5 854.3,201.5 855.3,194.6 856.7,168.9 857.5,166.2" fill="none" stroke="#74a733" stroke-width="2.0" stroke-linejoin="round"/>
<polyline points="499.5,118.0 500.7,91.3 501.7,70.0 502.8,83.4 503.7,93.3 505.0,91.7 506.2,105.3 507.3,106.9 508.7,113.5 510.0,120.3 511.2,133.1 512.0,180.3 512.8,197.3 513.7,203.3 515.0,198.3 516.2,201.7 517.1,198.5 517.8,193.4 518.7,179.5 520.3,156.7 521.2,158.4 522.0,161.2 523.7,160.8 524.3,163.8 525.3,167.1 526.4,172.3 527.0,176.7 528.7,167.8 530.0,143.0 531.2,137.5 532.8,135.2 533.6,135.8 534.5,138.3 536.2,132.3 537.8,129.7 538.8,128.7 539.5,126.7 541.2,131.1 541.9,133.9 542.8,139.1 544.5,147.6 545.7,152.8 547.0,165.2 547.8,181.4 549.5,193.4 550.7,213.3 552.0,205.7 553.7,192.8 554.3,191.2 555.3,188.3 555.3,188.3 556.4,191.5 557.0,196.7 558.7,189.2 559.5,187.3 560.3,183.3 562.0,189.8 563.7,196.7 564.6,187.4 565.3,182.4 566.7,172.9 567.8,151.4 569.0,133.5 570.3,125.0 572.0,133.2 573.3,140.3 574.5,143.6 576.2,146.7 577.0,142.9 577.8,138.4 579.5,133.3 580.1,127.8 581.2,118.8 582.3,92.5 583.3,86.7 584.5,96.7 585.7,91.7 586.3,99.6 587.0,107.0 588.3,120.0 589.5,103.7 590.7,92.8 592.0,81.5 592.8,65.6 593.7,56.7 594.5,69.2 595.3,90.7 596.2,113.3 597.0,99.6 597.7,97.2 598.3,97.0 599.5,100.0 600.7,95.0 602.0,96.5 602.8,111.9 603.7,132.7 605.0,144.3 606.2,149.1 607.0,149.5 607.8,150.5 609.0,153.3 610.3,151.7 611.2,154.1 612.0,157.2 613.7,171.3 615.3,178.3 616.3,175.9 617.0,176.7 618.7,175.0 619.4,179.2 620.3,180.5 621.2,213.9 622.0,230.0 623.3,221.3 624.5,210.2 626.2,195.7 627.7,195.6 628.7,195.0 630.3,200.1 632.0,205.0 632.9,203.9 633.7,203.1 635.3,193.3 636.0,194.3 637.0,197.8 638.0,200.6 638.7,202.9 640.3,204.2 641.1,205.2 642.0,206.1 643.7,208.0 645.3,211.3 646.3,211.6 647.0,211.0 648.7,215.0 649.4,216.4 650.3,216.9 652.0,218.2 653.7,221.2 654.6,223.8 655.3,225.1 657.0,233.2 657.7,236.4 658.7,242.5 659.5,246.7 661.2,240.0 661.8,240.9 662.8,246.7 663.9,249.4 664.5,251.3 666.2,253.6 667.0,254.3 667.8,256.7 669.5,241.7 670.7,254.8 672.0,263.4 673.3,266.7 674.5,250.5 675.7,246.3 676.3,245.9 677.0,244.9 678.7,240.1 679.4,239.3 680.3,239.3 682.0,237.4 683.7,233.3 685.0,240.1 686.2,253.5 687.3,267.5 688.3,278.3 689.5,268.6 690.7,262.5 692.0,253.0 693.3,239.9 694.5,236.2 695.7,224.7 697.0,216.5 698.3,210.2 699.5,203.7 700.3,202.6 701.1,199.2 702.0,196.6 703.7,182.6 705.3,176.6 706.7,173.3 707.3,175.5 708.3,180.6 709.4,181.3 710.0,180.5 711.2,189.9 712.3,196.7 713.3,182.9 714.5,164.9 715.7,143.3 717.0,139.6 717.7,134.2 718.3,126.0 719.5,123.3 720.3,132.9 721.7,135.3 723.3,133.5 725.0,130.4 726.2,133.3 727.0,123.3 727.8,105.0 729.0,120.1 730.3,126.8 731.7,128.5 732.8,136.3 734.0,141.7 735.3,139.2 736.7,144.7 737.8,156.2 739.0,169.5 740.3,174.1 742.0,180.2 743.7,186.5 744.5,191.8 745.3,198.1 746.7,210.8 747.8,229.6 748.7,245.3 750.0,259.7 751.2,271.7 752.8,271.0 753.8,267.5 754.5,267.9 756.2,262.6 757.0,263.4 758.0,266.1 758.7,266.5 760.3,270.0 761.1,259.8 762.0,244.3 763.7,243.3 765.3,249.4 766.2,250.0 767.0,251.6 768.7,257.0 769.3,253.6 770.3,252.3 772.0,246.9 773.7,240.0 775.0,244.6 776.2,250.0 777.3,236.7 778.7,224.4 779.7,219.0 780.3,215.9 782.0,200.4 782.8,179.9 784.0,143.4 785.0,121.7 786.2,132.9 787.0,143.6 787.8,167.9 788.7,179.9 790.0,186.7 791.2,165.8 792.3,117.3 793.0,88.4 793.7,58.3 794.5,91.2 795.3,141.3 796.2,153.3 797.0,143.1 797.8,138.3 798.7,143.3 799.5,125.5 800.7,105.0 801.7,116.8 802.8,123.8 803.5,125.4 804.5,126.7 805.5,120.9 806.2,116.3 807.8,108.6 808.6,103.4 809.5,98.3 810.7,101.7 812.0,115.5 813.3,127.7 814.5,131.0 815.3,136.9 816.2,149.2 817.0,156.7 818.3,132.9 819.5,124.6 820.7,96.7 821.7,98.1 822.8,116.2 823.7,121.7 825.0,111.5 826.2,103.3 827.3,106.3 828.3,117.5 829.3,150.3 830.3,185.5 831.4,189.0 832.0,191.0 833.3,198.6 834.5,205.0 835.7,195.0 836.7,186.7 837.8,204.4 838.7,223.1 839.5,238.2 840.3,241.7 842.0,235.2 842.8,232.9 843.7,232.2 845.3,218.9 846.2,204.4 847.3,201.7 848.7,210.2 850.0,220.0 850.7,202.3 851.7,186.9 852.8,150.8 854.5,148.3 855.7,145.3 856.7,125.6 857.5,119.2" fill="none" stroke="#1d64a0" stroke-width="2.0" stroke-linejoin="round"/>
<line x1="499.5" y1="29.1" x2="499.5" y2="331.0" stroke="#5a5a5a" stroke-width="1.2"/>
<line x1="499.0" y1="330.5" x2="872.2" y2="330.5" stroke="#5a5a5a" stroke-width="1.2"/>
<line x1="491.5" y1="330.5" x2="499.5" y2="330.5" stroke="#5a5a5a" stroke-width="1.2"/>
<text x="486.5" y="337.1" text-anchor="end" class="tk">-6</text>
<line x1="495.5" y1="311.5" x2="499.5" y2="311.5" stroke="#5a5a5a" stroke-width="1.2"/>
<line x1="491.5" y1="292.5" x2="499.5" y2="292.5" stroke="#5a5a5a" stroke-width="1.2"/>
<text x="486.5" y="299.5" text-anchor="end" class="tk">-4</text>
<line x1="495.5" y1="273.5" x2="499.5" y2="273.5" stroke="#5a5a5a" stroke-width="1.2"/>
<line x1="491.5" y1="254.5" x2="499.5" y2="254.5" stroke="#5a5a5a" stroke-width="1.2"/>
<text x="486.5" y="261.9" text-anchor="end" class="tk">-2</text>
<line x1="495.5" y1="236.5" x2="499.5" y2="236.5" stroke="#5a5a5a" stroke-width="1.2"/>
<line x1="491.5" y1="217.5" x2="499.5" y2="217.5" stroke="#5a5a5a" stroke-width="1.2"/>
<text x="486.5" y="224.2" text-anchor="end" class="tk">0</text>
<line x1="495.5" y1="198.5" x2="499.5" y2="198.5" stroke="#5a5a5a" stroke-width="1.2"/>
<line x1="491.5" y1="179.5" x2="499.5" y2="179.5" stroke="#5a5a5a" stroke-width="1.2"/>
<text x="486.5" y="186.6" text-anchor="end" class="tk">2</text>
<line x1="495.5" y1="160.5" x2="499.5" y2="160.5" stroke="#5a5a5a" stroke-width="1.2"/>
<line x1="491.5" y1="141.5" x2="499.5" y2="141.5" stroke="#5a5a5a" stroke-width="1.2"/>
<text x="486.5" y="149.0" text-anchor="end" class="tk">4</text>
<line x1="495.5" y1="123.5" x2="499.5" y2="123.5" stroke="#5a5a5a" stroke-width="1.2"/>
<line x1="491.5" y1="104.5" x2="499.5" y2="104.5" stroke="#5a5a5a" stroke-width="1.2"/>
<text x="486.5" y="111.3" text-anchor="end" class="tk">6</text>
<line x1="495.5" y1="85.5" x2="499.5" y2="85.5" stroke="#5a5a5a" stroke-width="1.2"/>
<line x1="491.5" y1="66.5" x2="499.5" y2="66.5" stroke="#5a5a5a" stroke-width="1.2"/>
<text x="486.5" y="73.7" text-anchor="end" class="tk">8</text>
<line x1="495.5" y1="47.5" x2="499.5" y2="47.5" stroke="#5a5a5a" stroke-width="1.2"/>
<line x1="491.5" y1="29.5" x2="499.5" y2="29.5" stroke="#5a5a5a" stroke-width="1.2"/>
<text x="486.5" y="36.1" text-anchor="end" class="tk">10</text>
<line x1="499.5" y1="330.5" x2="499.5" y2="338.5" stroke="#5a5a5a" stroke-width="1.2"/>
<text x="499.4" y="360.0" text-anchor="middle" class="tk">1985</text>
<line x1="514.5" y1="330.5" x2="514.5" y2="334.5" stroke="#5a5a5a" stroke-width="1.2"/>
<line x1="530.5" y1="330.5" x2="530.5" y2="334.5" stroke="#5a5a5a" stroke-width="1.2"/>
<line x1="545.5" y1="330.5" x2="545.5" y2="334.5" stroke="#5a5a5a" stroke-width="1.2"/>
<line x1="561.5" y1="330.5" x2="561.5" y2="338.5" stroke="#5a5a5a" stroke-width="1.2"/>
<text x="561.4" y="360.0" text-anchor="middle" class="tk">1990</text>
<line x1="576.5" y1="330.5" x2="576.5" y2="334.5" stroke="#5a5a5a" stroke-width="1.2"/>
<line x1="592.5" y1="330.5" x2="592.5" y2="334.5" stroke="#5a5a5a" stroke-width="1.2"/>
<line x1="607.5" y1="330.5" x2="607.5" y2="334.5" stroke="#5a5a5a" stroke-width="1.2"/>
<line x1="623.5" y1="330.5" x2="623.5" y2="338.5" stroke="#5a5a5a" stroke-width="1.2"/>
<text x="623.5" y="360.0" text-anchor="middle" class="tk">1995</text>
<line x1="638.5" y1="330.5" x2="638.5" y2="334.5" stroke="#5a5a5a" stroke-width="1.2"/>
<line x1="654.5" y1="330.5" x2="654.5" y2="334.5" stroke="#5a5a5a" stroke-width="1.2"/>
<line x1="669.5" y1="330.5" x2="669.5" y2="334.5" stroke="#5a5a5a" stroke-width="1.2"/>
<line x1="685.5" y1="330.5" x2="685.5" y2="338.5" stroke="#5a5a5a" stroke-width="1.2"/>
<text x="685.5" y="360.0" text-anchor="middle" class="tk">2000</text>
<line x1="701.5" y1="330.5" x2="701.5" y2="334.5" stroke="#5a5a5a" stroke-width="1.2"/>
<line x1="716.5" y1="330.5" x2="716.5" y2="334.5" stroke="#5a5a5a" stroke-width="1.2"/>
<line x1="732.5" y1="330.5" x2="732.5" y2="334.5" stroke="#5a5a5a" stroke-width="1.2"/>
<line x1="747.5" y1="330.5" x2="747.5" y2="338.5" stroke="#5a5a5a" stroke-width="1.2"/>
<text x="747.5" y="360.0" text-anchor="middle" class="tk">2005</text>
<line x1="763.5" y1="330.5" x2="763.5" y2="334.5" stroke="#5a5a5a" stroke-width="1.2"/>
<line x1="778.5" y1="330.5" x2="778.5" y2="334.5" stroke="#5a5a5a" stroke-width="1.2"/>
<line x1="794.5" y1="330.5" x2="794.5" y2="334.5" stroke="#5a5a5a" stroke-width="1.2"/>
<line x1="809.5" y1="330.5" x2="809.5" y2="338.5" stroke="#5a5a5a" stroke-width="1.2"/>
<text x="809.6" y="360.0" text-anchor="middle" class="tk">2010</text>
<line x1="825.5" y1="330.5" x2="825.5" y2="334.5" stroke="#5a5a5a" stroke-width="1.2"/>
<line x1="840.5" y1="330.5" x2="840.5" y2="334.5" stroke="#5a5a5a" stroke-width="1.2"/>
<line x1="856.5" y1="330.5" x2="856.5" y2="334.5" stroke="#5a5a5a" stroke-width="1.2"/>
<line x1="871.5" y1="330.5" x2="871.5" y2="338.5" stroke="#5a5a5a" stroke-width="1.2"/>
<text x="871.6" y="360.0" text-anchor="middle" class="tk">2015</text>
<text x="685.4" y="20.3" text-anchor="middle" class="tt" textLength="289.9" lengthAdjust="spacingAndGlyphs">1-year excess return of a 10-year bond</text>
<line x1="39.5" y1="662.5" x2="412.5" y2="662.5" stroke="#e8e8e8" stroke-width="1"/>
<line x1="39.5" y1="602.5" x2="412.5" y2="602.5" stroke="#e8e8e8" stroke-width="1"/>
<line x1="39.5" y1="542.5" x2="412.5" y2="542.5" stroke="#e8e8e8" stroke-width="1"/>
<line x1="39.5" y1="482.5" x2="412.5" y2="482.5" stroke="#e8e8e8" stroke-width="1"/>
<line x1="39.5" y1="422.5" x2="412.5" y2="422.5" stroke="#e8e8e8" stroke-width="1"/>
<polyline points="41.0,482.9 42.0,484.1 42.7,483.4 44.3,484.7 45.7,485.7 46.8,490.4 48.0,497.7 49.3,506.2 50.7,513.9 51.8,523.6 52.7,533.3 54.0,527.0 55.2,521.7 56.8,525.0 57.6,522.5 58.5,520.0 60.2,521.4 61.8,525.0 62.7,527.5 63.5,526.7 65.2,519.9 65.8,519.5 66.8,513.4 68.5,508.2 70.2,502.2 71.0,498.7 71.8,497.5 73.5,499.9 74.1,502.6 75.2,507.6 76.2,509.7 76.8,511.1 78.5,507.2 79.3,509.2 80.2,505.7 81.8,513.0 83.5,519.5 84.5,522.2 85.2,527.3 86.8,530.8 87.6,532.5 88.5,534.7 90.2,537.7 91.8,540.9 92.7,543.4 93.5,543.5 95.2,542.2 95.8,542.5 96.8,541.1 98.5,540.0 100.2,535.6 101.0,531.8 101.8,528.3 103.5,528.3 104.1,528.5 105.2,533.3 106.2,529.6 106.8,526.4 108.5,523.7 109.3,521.7 110.2,519.9 111.8,518.5 113.5,515.8 114.5,515.1 115.2,512.5 116.8,510.5 117.6,508.4 118.5,506.6 120.2,510.4 121.8,506.3 122.7,505.9 123.5,504.2 125.2,500.3 125.8,497.7 126.8,496.1 128.5,497.2 130.2,499.0 131.0,502.1 131.8,501.7 133.5,500.0 134.1,500.4 135.2,504.2 136.2,505.8 136.8,506.6 138.5,510.1 139.3,513.5 140.2,512.4 141.8,519.5 143.5,519.3 144.5,520.9 145.2,522.9 146.8,526.8 147.6,525.3 148.5,526.7 150.2,521.8 151.8,516.7 152.7,513.2 153.5,514.5 155.2,517.4 155.9,516.5 156.8,516.1 158.5,517.7 160.2,517.1 161.0,522.9 161.8,527.8 163.5,533.8 164.1,537.9 165.2,539.4 166.2,543.4 166.8,546.1 168.5,546.9 169.3,546.3 170.3,550.0 171.0,551.9 172.7,555.4 173.4,555.8 174.3,553.6 175.7,543.7 176.8,537.0 178.0,534.3 178.6,533.9 179.3,530.4 181.0,532.4 181.7,534.0 182.7,537.3 184.3,545.0 185.7,542.6 187.3,536.0 187.9,536.5 189.0,535.7 190.0,535.7 190.7,537.7 192.3,540.9 193.1,542.9 194.0,543.7 195.7,549.5 197.3,554.4 198.3,556.0 199.0,556.8 200.7,555.1 201.4,555.6 202.3,554.7 204.0,558.3 205.7,561.1 206.6,565.4 207.3,568.3 209.0,564.8 209.7,564.3 210.7,561.8 211.7,557.4 212.3,558.0 214.0,549.9 214.8,549.5 215.7,546.0 217.3,541.7 217.9,543.5 219.0,543.5 220.0,547.5 220.7,547.6 222.3,543.9 223.1,547.4 224.0,546.3 225.7,550.7 227.3,558.4 228.3,560.5 229.0,559.6 230.7,565.3 231.4,567.0 232.3,569.1 234.0,570.7 235.7,569.2 236.8,566.3 238.0,555.2 238.6,550.8 239.3,544.5 240.7,540.0 242.3,544.7 244.0,538.7 244.8,533.9 245.7,528.3 247.3,525.3 247.9,521.6 249.0,519.6 250.0,518.8 250.7,518.3 252.3,523.5 253.1,527.9 254.0,529.1 255.2,537.3 256.3,542.7 257.7,545.0 258.3,539.8 259.0,533.3 260.2,535.6 261.3,540.1 262.7,539.5 263.5,541.8 264.3,543.8 265.7,545.0 266.8,533.9 268.0,525.0 268.6,526.6 269.3,526.6 271.0,531.3 271.7,530.8 272.7,529.7 274.3,534.0 276.0,536.7 276.9,533.5 277.7,530.0 279.3,536.6 280.0,534.4 281.0,540.9 282.7,544.6 284.3,547.5 285.2,550.7 286.0,554.5 287.7,556.9 288.3,560.7 289.3,561.2 290.4,566.2 291.0,566.0 292.7,570.0 293.5,568.3 294.3,569.1 296.0,570.1 297.7,569.1 298.6,567.8 299.3,571.7 301.0,566.7 301.7,566.1 302.7,568.0 304.3,570.3 306.0,571.9 306.9,576.8 307.7,575.5 309.3,579.6 310.0,577.9 311.0,574.6 312.7,574.5 314.3,572.8 315.2,571.6 316.0,569.4 317.7,566.2 318.3,565.5 319.3,564.7 320.4,561.1 321.0,559.7 322.7,556.7 323.5,555.8 324.3,551.8 326.0,549.2 327.7,548.0 328.7,548.9 329.3,549.7 331.0,547.0 332.3,535.0 333.5,540.0 334.7,553.3 336.0,549.5 337.3,547.5 338.5,539.6 340.2,532.4 341.1,532.1 341.8,530.4 343.5,531.6 344.2,531.6 345.2,533.3 346.3,528.5 347.7,525.5 348.3,528.5 349.3,528.0 350.4,528.3 351.0,530.1 352.7,539.6 353.5,544.6 354.3,548.1 356.0,555.0 357.7,553.2 358.7,549.6 359.3,546.0 361.0,538.0 361.8,537.3 362.7,534.7 364.3,538.4 366.0,542.4 367.3,551.8 368.5,564.3 369.7,567.1 371.0,568.8 372.7,569.5 374.3,571.7 375.7,566.7 376.8,573.3 377.7,561.7 378.3,563.6 379.4,563.7 380.4,564.7 381.4,565.3 382.5,567.5 383.5,570.1 384.5,569.1 386.0,570.3 387.7,575.0 388.7,570.2 389.3,566.1 391.0,556.1 391.8,555.2 392.7,553.4 394.3,550.6 396.0,548.0 396.8,543.3" fill="none" stroke="#e3244f" stroke-width="2.0" stroke-linejoin="round"/>
<polyline points="37.7,505.6 38.7,499.4 39.3,495.1 41.0,483.3 41.8,489.4 42.7,493.7 44.3,500.5 46.0,503.1 47.0,505.0 47.7,508.8 49.3,515.5 50.7,531.8 51.8,551.2 52.7,566.7 54.3,560.5 55.3,557.3 56.0,555.6 57.7,548.3 58.4,544.5 59.3,540.0 61.0,541.9 62.5,544.3 63.5,545.6 64.6,547.1 66.0,548.6 66.6,547.1 67.7,547.2 68.5,547.4 70.2,525.8 70.8,526.0 71.8,525.5 72.9,525.9 74.3,525.5 76.0,524.0 76.8,524.6 78.5,518.7 80.2,523.1 81.1,525.9 81.8,528.4 83.5,535.7 84.2,541.7 85.3,549.1 86.0,554.1 87.3,560.7 88.5,566.0 89.0,584.1 90.2,591.7 91.8,580.0 92.5,577.9 93.5,573.3 95.2,578.3 96.8,575.7 97.7,573.3 98.5,570.1 100.2,571.0 100.8,571.6 101.8,572.6 102.9,571.9 103.5,568.9 105.2,566.2 106.0,556.8 107.0,543.2 107.7,532.0 109.3,528.3 110.1,529.3 111.0,528.2 112.7,532.6 114.3,531.4 115.3,527.0 116.0,526.7 117.7,525.5 118.4,520.2 119.3,520.3 121.0,506.8 121.8,491.6 123.0,485.3 124.3,487.5 125.7,496.3 126.8,505.8 128.0,508.7 128.7,501.1 129.3,495.0 130.7,485.0 131.8,474.6 132.7,462.0 134.0,474.6 135.2,488.3 136.0,500.0 136.8,502.0 138.0,492.7 139.3,487.0 140.7,490.2 141.8,506.0 143.0,517.8 144.3,524.6 145.3,531.9 146.0,533.7 147.3,533.6 148.5,525.3 149.4,528.1 150.2,528.9 151.8,535.4 152.5,540.5 153.5,546.3 155.2,549.2 156.8,546.5 157.7,548.0 158.5,548.8 160.2,577.5 161.0,588.7 161.8,582.3 162.7,576.7 163.9,570.3 165.2,566.7 166.0,568.4 167.0,569.3 167.7,569.9 169.3,572.6 170.1,575.3 171.0,576.7 172.7,578.3 174.3,571.3 175.3,568.7 176.0,567.0 177.7,569.8 178.4,570.8 179.3,572.3 181.0,573.4 182.7,575.6 183.6,574.4 184.3,576.1 186.0,580.4 186.7,579.8 187.7,580.8 189.3,582.5 191.0,582.3 191.8,583.3 192.7,583.6 194.3,585.3 194.9,588.8 196.0,594.4 197.0,598.2 197.7,601.0 199.3,601.2 200.1,601.0 201.0,601.9 202.7,602.7 204.3,607.3 205.3,607.1 206.0,607.9 207.7,608.1 208.4,608.8 209.3,606.6 211.0,609.8 212.7,611.7 213.6,606.4 214.3,603.3 216.0,593.9 216.7,596.3 217.7,593.6 219.3,594.6 221.0,593.6 221.9,594.0 222.7,594.1 224.3,599.8 225.0,603.3 226.0,613.3 227.0,621.0 227.7,625.0 229.3,623.2 230.1,618.3 231.0,613.1 232.7,606.2 234.3,598.5 235.3,591.1 236.0,585.8 237.7,577.2 238.4,571.4 239.3,563.3 241.0,559.9 242.7,552.4 243.6,548.7 244.3,546.3 246.0,543.3 246.7,543.3 247.7,541.0 249.3,544.2 250.8,551.3 251.8,557.5 252.7,551.6 253.8,539.8 254.7,529.4 256.0,524.2 257.3,516.7 258.5,507.5 259.7,515.8 261.0,510.7 262.3,511.5 263.5,512.0 264.7,514.2 265.3,511.6 266.0,507.7 266.8,494.2 268.0,503.5 269.3,506.0 270.7,509.3 271.8,512.6 273.0,515.0 274.3,517.9 275.7,517.2 276.8,525.9 278.0,536.2 279.3,540.0 281.0,544.1 281.9,546.1 282.7,549.6 284.0,555.5 285.2,563.4 286.3,574.3 287.0,580.9 287.7,585.7 289.0,594.8 289.3,609.4 290.1,610.0 291.0,612.4 292.7,613.8 294.3,613.4 295.3,614.6 296.0,614.6 297.7,617.8 298.4,617.6 299.3,620.0 301.0,608.9 302.7,604.0 303.6,603.2 304.3,605.9 306.0,608.4 306.7,610.6 307.7,612.2 309.3,612.1 311.0,611.8 311.9,608.8 312.7,608.6 314.3,607.8 315.0,604.8 316.0,602.1 317.3,593.5 318.5,584.0 319.1,582.7 320.2,575.3 321.2,569.1 321.8,566.3 323.0,542.2 324.0,525.7 324.7,504.8 325.7,508.5 326.3,525.8 327.3,541.4 328.5,549.7 329.7,553.2 330.7,545.1 331.3,509.1 331.8,482.5 332.7,461.5 333.5,483.0 334.3,516.3 335.2,528.2 336.0,518.6 336.8,516.5 338.0,521.5 339.0,507.6 340.2,491.5 341.3,500.7 342.7,504.8 344.0,502.8 345.2,506.5 346.3,500.4 347.1,495.0 347.7,490.4 349.0,486.5 350.2,487.6 351.3,494.3 352.7,504.0 354.0,510.9 355.2,515.4 356.3,526.5 357.3,516.5 358.5,511.1 359.7,504.0 360.7,484.8 361.8,488.8 363.0,499.8 363.6,499.1 364.3,495.7 365.7,491.4 366.8,489.8 367.7,495.3 368.5,517.0 369.3,538.4 370.7,548.2 371.8,544.8 373.0,555.7 374.0,558.2 375.2,548.2 376.3,557.2 377.3,574.4 378.5,585.0 379.1,583.5 380.2,581.7 381.2,580.5 382.7,578.7 384.3,577.1 385.2,576.7 386.8,572.8 388.5,567.5 389.7,549.7 391.0,531.5 392.3,524.0 394.0,520.7 394.6,518.3 395.7,510.9 396.8,499.9" fill="none" stroke="#e6b02c" stroke-width="2.0" stroke-linejoin="round"/>
<polyline points="37.7,489.7 39.0,473.4 40.2,467.4 41.0,460.0 41.8,474.3 43.0,486.8 44.3,495.7 45.7,498.4 46.8,504.7 48.0,512.5 49.3,523.1 50.7,540.2 51.8,565.5 52.7,590.0 54.3,576.7 55.3,581.9 56.0,585.0 57.7,572.9 58.4,569.7 59.3,565.1 61.0,562.8 62.7,567.9 63.5,568.3 64.3,570.0 66.0,565.3 66.6,563.5 67.7,561.9 68.5,557.5 69.7,539.6 71.0,535.0 72.3,540.0 74.0,539.1 74.9,535.3 75.7,533.8 77.3,528.7 78.5,523.3 79.7,528.2 81.0,533.8 82.7,540.0 84.3,542.3 85.3,545.9 86.0,546.7 87.7,556.7 88.4,551.8 89.0,549.7 90.2,546.7 91.3,560.4 92.7,565.0 93.5,561.1 94.3,557.2 96.0,550.8 96.6,554.5 97.7,554.4 98.7,557.4 99.3,558.3 101.0,556.0 101.8,555.0 102.7,555.5 104.3,556.9 106.0,543.2 107.0,535.5 107.7,530.7 109.3,527.9 110.1,529.5 111.0,530.2 112.7,538.0 114.0,546.6 115.7,550.0 116.3,546.2 117.3,543.2 118.4,542.2 119.0,540.9 120.7,538.5 121.8,531.0 123.0,523.3 124.3,532.8 126.0,542.0 126.7,547.8 127.3,550.0 128.5,538.8 130.2,534.8 130.8,530.2 131.8,526.6 133.0,521.7 134.3,533.0 134.9,540.8 135.7,546.9 136.8,552.6 138.0,556.7 139.3,550.0 140.7,553.6 141.8,559.2 142.7,571.4 144.3,585.2 145.3,592.2 146.0,596.7 147.7,588.3 148.4,590.0 149.3,590.3 151.0,586.6 152.7,588.7 153.6,587.7 154.3,585.4 156.0,582.5 156.7,581.3 157.7,576.4 159.3,575.6 160.2,593.0 161.3,606.7 162.7,593.8 164.3,588.8 164.9,590.0 166.0,589.4 167.0,598.0 167.7,600.9 169.3,604.3 170.1,604.1 171.0,604.9 172.7,607.4 173.5,615.0 174.7,599.6 175.7,595.6 176.8,598.7 178.5,600.2 179.4,602.6 180.2,603.1 181.8,604.3 182.5,606.0 183.5,606.7 185.2,609.4 186.8,613.7 187.7,610.2 188.5,610.3 190.2,614.1 190.8,616.4 191.8,617.4 192.9,620.5 193.5,621.2 195.2,625.9 196.0,625.9 196.8,630.3 198.5,632.7 200.2,633.0 201.2,635.9 201.8,635.4 203.5,640.8 204.3,641.2 205.2,646.7 206.8,645.9 208.0,658.3 209.3,653.3 211.0,656.5 212.3,658.3 213.5,645.3 215.2,641.6 216.8,636.2 217.7,635.1 218.5,633.6 220.2,630.3 220.8,630.8 221.8,629.9 222.9,626.6 223.5,624.4 224.7,621.7 226.0,642.9 227.3,650.0 228.5,646.0 230.2,641.6 231.2,634.0 231.8,630.3 233.0,623.3 234.3,624.5 235.3,625.4 236.0,626.7 237.7,623.7 238.4,623.4 239.3,622.2 241.0,624.8 242.7,622.3 243.6,621.9 244.3,621.0 245.7,618.3 246.8,623.2 247.7,626.0 248.5,626.4 250.2,626.6 250.8,627.6 251.8,631.7 253.0,626.6 254.3,616.8 255.0,611.5 256.0,603.1 257.0,601.4 257.7,600.3 258.5,595.0 259.7,601.8 261.0,603.9 262.7,602.9 264.3,600.0 265.7,605.0 266.8,587.1 268.0,583.3 269.0,592.9 270.2,597.9 271.3,604.1 272.7,605.1 273.6,605.5 274.3,605.3 276.0,609.1 276.7,614.5 277.3,621.5 279.0,625.4 279.8,626.1 280.7,628.7 282.3,630.0 284.0,633.3 285.2,639.8 286.3,646.2 287.0,650.6 287.7,655.2 289.0,662.7 290.2,676.1 291.3,681.7 292.7,676.6 294.3,668.3 295.3,668.3 296.0,667.3 297.7,663.6 298.4,663.8 299.3,662.6 300.7,654.2 301.8,641.7 302.6,643.0 303.5,644.5 305.2,647.8 306.8,650.2 307.7,650.3 308.5,653.3 310.2,648.6 310.8,649.7 311.8,646.6 313.5,641.7 315.2,648.3 316.0,638.4 317.0,634.8 317.7,635.2 319.3,633.3 320.1,631.7 321.0,628.5 322.3,616.6 323.5,604.2 324.7,590.0 325.3,596.9 326.0,603.4 326.8,627.6 328.0,630.2 329.3,633.3 330.7,632.0 331.3,615.9 332.3,577.9 333.0,550.0 334.0,577.7 334.7,626.0 335.3,640.0 336.0,623.7 336.8,620.0 337.7,630.0 339.0,610.4 340.2,591.7 341.3,603.8 342.7,608.0 344.3,610.0 345.0,605.9 346.0,601.1 347.1,595.3 347.7,594.1 349.0,589.0 350.2,592.2 351.3,601.4 352.7,610.4 354.0,617.5 355.2,626.7 356.0,635.0 356.8,622.2 358.0,612.8 359.3,608.3 360.7,588.3 361.8,593.1 363.0,603.3 363.6,602.2 364.3,600.0 365.7,597.3 366.8,598.9 367.7,627.8 368.5,655.0 369.3,663.3 370.7,656.7 371.8,667.2 373.0,673.3 374.3,667.8 375.0,662.6 375.7,656.7 376.8,677.7 377.7,697.0 379.0,698.3 380.7,693.6 382.3,692.3 383.3,687.6 384.0,687.3 385.2,674.6 386.3,670.0 387.7,676.9 388.7,683.3 389.7,662.6 390.7,652.7 391.8,636.5 393.0,631.1 393.6,631.0 394.3,630.1 395.7,623.5 396.8,606.8" fill="none" stroke="#74a733" stroke-width="2.0" stroke-linejoin="round"/>
<polyline points="37.7,510.6 39.0,496.5 40.2,486.2 41.0,478.3 42.3,491.1 43.5,496.7 45.2,501.9 45.9,504.5 46.8,502.7 48.5,510.2 49.7,516.7 50.7,529.7 51.8,546.4 52.7,568.3 54.0,566.6 55.2,561.6 56.8,553.3 58.5,540.4 59.4,535.9 60.2,533.3 61.8,537.4 62.5,537.6 63.5,541.1 65.2,541.0 66.8,546.7 67.7,541.9 68.5,538.6 70.2,522.1 70.8,522.4 71.8,522.2 72.9,521.0 73.5,520.9 75.2,520.1 76.0,519.0 76.8,518.6 78.5,515.0 80.2,520.0 81.1,520.4 81.8,524.5 83.5,531.7 84.7,534.8 86.0,543.9 87.7,556.7 88.4,563.2 89.0,570.3 90.2,578.3 91.3,566.3 92.7,557.8 94.0,546.7 95.2,557.2 96.3,565.0 97.7,561.5 98.7,558.9 99.3,558.6 101.0,556.8 101.8,557.3 102.7,560.0 104.3,553.7 106.0,538.1 107.0,527.5 107.7,522.7 109.3,516.7 110.1,519.0 111.0,522.2 112.7,523.8 114.3,528.3 115.3,525.9 116.0,523.2 117.7,519.9 118.4,518.3 119.3,515.8 121.0,506.6 121.8,490.3 123.0,483.3 124.3,487.2 125.7,493.8 126.8,505.0 128.0,506.7 128.7,498.4 129.3,491.2 130.7,482.7 131.8,475.0 132.7,460.0 134.0,472.1 135.2,484.9 136.0,496.9 136.8,500.0 138.0,489.7 139.3,486.4 140.7,489.4 141.8,501.9 143.0,515.9 144.3,524.1 145.3,528.6 146.0,531.7 147.3,530.0 148.5,523.3 149.4,524.5 150.2,526.1 151.8,532.9 152.5,537.6 153.5,545.2 155.2,545.9 156.8,545.7 157.7,545.5 158.5,546.4 160.2,575.9 161.0,586.7 161.8,579.5 162.7,575.2 164.3,569.1 164.9,565.5 166.0,560.0 167.0,559.9 167.7,561.9 169.3,562.7 170.1,565.1 171.0,567.0 172.7,568.3 174.3,558.4 175.7,555.0 176.8,562.2 178.0,565.5 179.3,568.9 181.0,569.6 182.7,568.5 183.6,571.4 184.3,571.8 186.0,573.2 186.7,574.6 187.7,576.0 189.3,575.8 191.0,577.1 191.8,578.7 192.7,579.9 194.3,586.8 194.9,589.0 196.0,590.9 197.0,593.3 197.7,594.9 199.3,592.9 200.1,594.3 201.0,596.7 202.7,599.6 204.3,599.9 205.3,600.5 206.0,601.7 207.7,595.4 208.4,592.5 209.0,590.0 210.2,604.4 211.8,606.7 212.5,601.3 213.5,597.4 215.2,592.1 216.8,588.8 217.7,590.2 218.5,588.3 220.2,589.2 220.8,585.8 221.9,587.9 222.7,586.8 224.0,589.4 225.2,596.5 226.3,609.8 227.3,618.3 228.5,616.5 230.2,608.0 231.2,602.1 231.8,595.9 233.5,592.1 234.3,589.8 235.2,588.8 236.8,572.3 238.0,564.2 239.3,559.6 240.7,560.5 241.8,556.0 243.0,550.0 244.3,543.2 245.7,540.0 246.8,543.4 248.0,545.1 249.3,545.9 250.7,552.8 251.8,555.0 252.7,548.0 253.8,536.2 254.7,525.6 256.0,520.7 257.3,512.2 258.5,505.0 259.7,513.3 261.0,510.3 262.3,506.3 263.5,509.8 264.7,511.7 265.3,508.8 266.0,505.5 266.8,491.7 268.0,500.8 269.3,504.1 270.7,504.8 271.8,511.3 273.0,512.3 274.3,515.2 275.7,517.0 276.8,523.0 278.0,534.9 279.3,538.1 281.0,542.7 281.9,544.8 282.7,547.9 284.0,552.9 285.2,563.4 286.3,573.0 287.0,577.3 287.7,583.8 289.0,594.6 290.7,610.0 292.3,610.2 293.2,606.5 294.0,605.9 295.7,604.8 296.4,608.5 297.3,605.7 299.0,608.3 301.0,597.7 302.7,593.0 303.6,594.7 304.3,596.5 306.0,599.6 306.7,600.4 307.7,600.2 309.3,601.8 311.0,601.0 311.9,597.1 312.7,596.1 314.3,592.8 315.0,591.9 316.0,589.1 317.3,580.9 318.5,572.8 319.1,570.2 320.2,566.7 320.7,565.4 321.8,552.6 323.0,540.7 324.0,523.4 324.7,503.3 325.7,507.9 326.3,521.2 327.3,538.0 328.5,548.5 329.7,551.7 330.7,541.2 331.3,505.5 331.8,479.3 332.7,460.0 333.5,482.2 334.3,514.9 335.2,526.7 336.0,517.4 336.8,515.0 338.0,520.0 339.0,507.8 340.2,490.0 341.3,499.9 342.7,503.3 344.0,501.9 345.2,505.0 346.3,499.0 347.1,492.6 347.7,490.0 349.0,485.0 350.2,488.6 351.3,493.0 352.7,501.6 354.0,509.3 355.2,513.5 356.3,525.0 357.3,516.3 358.5,510.9 359.7,503.7 360.7,483.3 361.8,487.4 363.0,498.3 363.6,497.0 364.3,493.4 365.7,489.7 366.8,488.3 367.7,494.0 368.5,515.5 369.3,537.4 370.7,546.7 371.8,543.3 373.0,555.9 374.0,556.7 375.2,546.7 376.3,556.7 377.3,573.9 378.5,583.3 379.1,582.5 380.2,581.7 381.2,578.6 381.8,576.7 383.5,575.5 384.7,573.2 385.3,571.4 386.0,571.4 387.3,567.8 388.5,561.2 389.7,544.6 391.0,532.0 392.3,520.0 394.0,518.2 394.6,515.6 395.7,509.2 396.8,498.9" fill="none" stroke="#1d64a0" stroke-width="2.0" stroke-linejoin="round"/>
<line x1="38.5" y1="422.4" x2="38.5" y2="723.0" stroke="#5a5a5a" stroke-width="1.2"/>
<line x1="38.0" y1="722.5" x2="411.9" y2="722.5" stroke="#5a5a5a" stroke-width="1.2"/>
<line x1="30.5" y1="722.5" x2="38.5" y2="722.5" stroke="#5a5a5a" stroke-width="1.2"/>
<text x="25.5" y="730.0" text-anchor="end" class="tk">-2</text>
<line x1="34.5" y1="707.5" x2="38.5" y2="707.5" stroke="#5a5a5a" stroke-width="1.2"/>
<line x1="34.5" y1="692.5" x2="38.5" y2="692.5" stroke="#5a5a5a" stroke-width="1.2"/>
<line x1="34.5" y1="677.5" x2="38.5" y2="677.5" stroke="#5a5a5a" stroke-width="1.2"/>
<line x1="30.5" y1="662.5" x2="38.5" y2="662.5" stroke="#5a5a5a" stroke-width="1.2"/>
<text x="25.5" y="669.9" text-anchor="end" class="tk">-1</text>
<line x1="34.5" y1="647.5" x2="38.5" y2="647.5" stroke="#5a5a5a" stroke-width="1.2"/>
<line x1="34.5" y1="632.5" x2="38.5" y2="632.5" stroke="#5a5a5a" stroke-width="1.2"/>
<line x1="34.5" y1="617.5" x2="38.5" y2="617.5" stroke="#5a5a5a" stroke-width="1.2"/>
<line x1="30.5" y1="602.5" x2="38.5" y2="602.5" stroke="#5a5a5a" stroke-width="1.2"/>
<text x="25.5" y="609.8" text-anchor="end" class="tk">0</text>
<line x1="34.5" y1="587.5" x2="38.5" y2="587.5" stroke="#5a5a5a" stroke-width="1.2"/>
<line x1="34.5" y1="572.5" x2="38.5" y2="572.5" stroke="#5a5a5a" stroke-width="1.2"/>
<line x1="34.5" y1="557.5" x2="38.5" y2="557.5" stroke="#5a5a5a" stroke-width="1.2"/>
<line x1="30.5" y1="542.5" x2="38.5" y2="542.5" stroke="#5a5a5a" stroke-width="1.2"/>
<text x="25.5" y="549.6" text-anchor="end" class="tk">1</text>
<line x1="34.5" y1="527.5" x2="38.5" y2="527.5" stroke="#5a5a5a" stroke-width="1.2"/>
<line x1="34.5" y1="512.5" x2="38.5" y2="512.5" stroke="#5a5a5a" stroke-width="1.2"/>
<line x1="34.5" y1="497.5" x2="38.5" y2="497.5" stroke="#5a5a5a" stroke-width="1.2"/>
<line x1="30.5" y1="482.5" x2="38.5" y2="482.5" stroke="#5a5a5a" stroke-width="1.2"/>
<text x="25.5" y="489.5" text-anchor="end" class="tk">2</text>
<line x1="34.5" y1="467.5" x2="38.5" y2="467.5" stroke="#5a5a5a" stroke-width="1.2"/>
<line x1="34.5" y1="452.5" x2="38.5" y2="452.5" stroke="#5a5a5a" stroke-width="1.2"/>
<line x1="34.5" y1="437.5" x2="38.5" y2="437.5" stroke="#5a5a5a" stroke-width="1.2"/>
<line x1="30.5" y1="422.5" x2="38.5" y2="422.5" stroke="#5a5a5a" stroke-width="1.2"/>
<text x="25.5" y="429.4" text-anchor="end" class="tk">3</text>
<line x1="38.5" y1="722.5" x2="38.5" y2="730.5" stroke="#5a5a5a" stroke-width="1.2"/>
<text x="38.8" y="752.9" text-anchor="middle" class="tk">1985</text>
<line x1="54.5" y1="722.5" x2="54.5" y2="726.5" stroke="#5a5a5a" stroke-width="1.2"/>
<line x1="69.5" y1="722.5" x2="69.5" y2="726.5" stroke="#5a5a5a" stroke-width="1.2"/>
<line x1="85.5" y1="722.5" x2="85.5" y2="726.5" stroke="#5a5a5a" stroke-width="1.2"/>
<line x1="100.5" y1="722.5" x2="100.5" y2="730.5" stroke="#5a5a5a" stroke-width="1.2"/>
<text x="100.9" y="752.9" text-anchor="middle" class="tk">1990</text>
<line x1="116.5" y1="722.5" x2="116.5" y2="726.5" stroke="#5a5a5a" stroke-width="1.2"/>
<line x1="131.5" y1="722.5" x2="131.5" y2="726.5" stroke="#5a5a5a" stroke-width="1.2"/>
<line x1="147.5" y1="722.5" x2="147.5" y2="726.5" stroke="#5a5a5a" stroke-width="1.2"/>
<line x1="162.5" y1="722.5" x2="162.5" y2="730.5" stroke="#5a5a5a" stroke-width="1.2"/>
<text x="163.0" y="752.9" text-anchor="middle" class="tk">1995</text>
<line x1="178.5" y1="722.5" x2="178.5" y2="726.5" stroke="#5a5a5a" stroke-width="1.2"/>
<line x1="194.5" y1="722.5" x2="194.5" y2="726.5" stroke="#5a5a5a" stroke-width="1.2"/>
<line x1="209.5" y1="722.5" x2="209.5" y2="726.5" stroke="#5a5a5a" stroke-width="1.2"/>
<line x1="225.5" y1="722.5" x2="225.5" y2="730.5" stroke="#5a5a5a" stroke-width="1.2"/>
<text x="225.1" y="752.9" text-anchor="middle" class="tk">2000</text>
<line x1="240.5" y1="722.5" x2="240.5" y2="726.5" stroke="#5a5a5a" stroke-width="1.2"/>
<line x1="256.5" y1="722.5" x2="256.5" y2="726.5" stroke="#5a5a5a" stroke-width="1.2"/>
<line x1="271.5" y1="722.5" x2="271.5" y2="726.5" stroke="#5a5a5a" stroke-width="1.2"/>
<line x1="287.5" y1="722.5" x2="287.5" y2="730.5" stroke="#5a5a5a" stroke-width="1.2"/>
<text x="287.1" y="752.9" text-anchor="middle" class="tk">2005</text>
<line x1="302.5" y1="722.5" x2="302.5" y2="726.5" stroke="#5a5a5a" stroke-width="1.2"/>
<line x1="318.5" y1="722.5" x2="318.5" y2="726.5" stroke="#5a5a5a" stroke-width="1.2"/>
<line x1="333.5" y1="722.5" x2="333.5" y2="726.5" stroke="#5a5a5a" stroke-width="1.2"/>
<line x1="349.5" y1="722.5" x2="349.5" y2="730.5" stroke="#5a5a5a" stroke-width="1.2"/>
<text x="349.2" y="752.9" text-anchor="middle" class="tk">2010</text>
<line x1="364.5" y1="722.5" x2="364.5" y2="726.5" stroke="#5a5a5a" stroke-width="1.2"/>
<line x1="380.5" y1="722.5" x2="380.5" y2="726.5" stroke="#5a5a5a" stroke-width="1.2"/>
<line x1="395.5" y1="722.5" x2="395.5" y2="726.5" stroke="#5a5a5a" stroke-width="1.2"/>
<line x1="411.5" y1="722.5" x2="411.5" y2="730.5" stroke="#5a5a5a" stroke-width="1.2"/>
<text x="411.3" y="752.9" text-anchor="middle" class="tk">2015</text>
<text x="224.4" y="413.6" text-anchor="middle" class="tt" textLength="289.3" lengthAdjust="spacingAndGlyphs">5-year excess return of a 10-year bond</text>
<line x1="500.5" y1="680.5" x2="872.8" y2="680.5" stroke="#e8e8e8" stroke-width="1"/>
<line x1="500.5" y1="637.5" x2="872.8" y2="637.5" stroke="#e8e8e8" stroke-width="1"/>
<line x1="500.5" y1="594.5" x2="872.8" y2="594.5" stroke="#e8e8e8" stroke-width="1"/>
<line x1="500.5" y1="551.5" x2="872.8" y2="551.5" stroke="#e8e8e8" stroke-width="1"/>
<line x1="500.5" y1="508.5" x2="872.8" y2="508.5" stroke="#e8e8e8" stroke-width="1"/>
<line x1="500.5" y1="465.5" x2="872.8" y2="465.5" stroke="#e8e8e8" stroke-width="1"/>
<line x1="500.5" y1="422.5" x2="872.8" y2="422.5" stroke="#e8e8e8" stroke-width="1"/>
<polyline points="500.3,473.4 501.4,470.7 502.0,469.4 503.7,472.5 504.5,473.9 505.3,475.8 506.7,478.4 507.8,483.3 509.0,491.5 509.6,497.5 510.3,502.0 511.7,509.9 512.8,521.7 514.0,514.6 515.3,510.8 517.0,507.2 517.9,507.4 518.7,507.1 520.3,510.3 521.0,511.7 522.0,513.6 523.0,513.7 523.7,516.7 525.3,510.8 526.1,506.0 527.0,502.4 528.7,495.7 530.3,488.0 531.3,487.6 532.0,488.1 533.7,490.9 534.4,494.2 535.3,498.0 537.0,500.0 538.7,495.0 539.6,495.2 540.3,495.7 542.0,500.9 542.7,503.9 543.7,509.2 544.7,512.3 545.3,513.6 547.0,518.6 547.8,520.3 548.7,522.0 550.3,524.1 552.0,527.2 553.0,527.4 553.7,529.4 555.3,528.0 556.1,528.1 557.0,530.4 558.7,528.1 560.3,522.9 561.2,521.9 562.0,519.0 563.7,518.3 564.3,517.3 565.3,516.6 567.0,511.6 568.7,510.0 569.5,509.6 570.3,505.7 572.0,504.0 572.6,501.5 573.7,501.5 574.7,498.5 575.3,497.9 577.0,495.8 577.8,496.8 578.7,496.8 580.3,494.8 582.0,493.9 582.9,491.6 583.7,489.9 585.3,489.6 586.0,488.6 587.0,483.5 588.7,483.3 590.3,484.4 591.2,483.7 592.0,485.8 593.7,485.9 594.3,486.7 595.3,487.8 596.4,490.0 597.0,491.4 598.7,494.1 599.5,496.4 600.3,497.4 602.0,502.9 603.7,510.9 604.6,510.3 605.3,511.8 607.0,513.0 607.7,514.0 608.7,512.6 610.3,510.4 612.0,502.2 612.9,503.0 613.7,502.9 615.3,505.3 616.0,505.7 617.0,505.5 618.0,506.5 618.7,507.3 620.3,510.3 621.1,514.0 622.0,519.5 623.7,524.3 625.3,529.8 626.3,530.7 627.0,531.5 628.7,532.1 629.4,535.1 630.3,536.6 632.0,536.8 633.7,541.7 634.6,539.2 635.3,536.1 636.7,531.0 637.8,524.6 639.0,521.1 639.7,523.0 640.3,524.1 642.0,523.7 642.8,526.5 643.7,526.3 645.3,531.7 646.7,530.0 648.3,527.3 649.0,525.4 650.0,525.2 651.7,528.7 653.3,532.3 654.2,533.3 655.0,533.4 656.7,536.7 657.3,537.2 658.3,541.1 659.3,543.6 660.0,545.3 661.7,544.9 662.4,544.2 663.3,544.5 665.0,546.7 666.7,551.3 667.6,553.5 668.3,555.0 670.0,552.8 670.7,552.4 671.7,551.4 673.3,544.4 675.0,539.7 675.9,534.0 676.7,533.3 678.3,531.9 679.0,531.0 680.0,533.7 681.0,531.8 681.7,533.0 683.3,534.2 684.1,533.5 685.0,534.3 686.7,540.3 688.3,545.8 689.3,546.8 690.0,548.6 691.7,550.8 692.4,553.3 693.3,552.6 695.0,554.3 696.7,555.9 697.8,545.6 699.0,539.4 699.6,533.9 700.3,529.6 701.7,526.1 702.7,527.7 703.3,528.2 705.0,526.8 705.8,523.9 706.7,518.4 708.3,509.0 710.0,508.0 711.0,508.1 711.7,511.2 713.3,514.4 714.1,514.5 715.0,519.1 716.2,524.5 717.3,528.3 718.7,526.2 720.0,518.3 721.2,520.0 722.3,521.4 723.7,523.1 724.4,524.9 725.3,526.2 726.7,528.3 727.8,521.4 729.0,510.0 730.3,513.7 732.0,514.6 732.6,516.5 733.7,518.3 734.7,518.0 735.3,517.1 737.0,515.8 737.8,515.5 738.7,516.3 740.3,524.2 742.0,528.9 743.0,532.0 743.7,531.4 745.3,534.4 746.1,538.3 747.0,539.3 748.7,545.8 750.3,547.6 751.2,551.2 752.0,555.6 753.7,554.8 754.3,553.8 755.3,554.6 756.4,554.2 757.0,553.0 758.7,556.7 759.5,556.8 760.3,556.4 762.0,554.6 763.7,551.6 764.7,553.3 765.3,555.0 767.0,557.4 767.7,561.5 768.7,561.7 770.3,561.4 772.0,561.0 772.9,561.2 773.7,560.0 775.3,555.7 776.0,555.8 777.0,555.4 778.7,550.6 780.3,547.9 781.2,546.9 782.0,545.5 783.7,540.0 785.3,536.7 786.3,533.8 787.0,533.3 788.7,531.4 789.4,531.7 790.3,533.3 792.0,529.9 793.3,518.3 794.5,526.9 795.7,538.3 797.0,531.8 797.7,532.4 798.3,530.4 799.5,524.2 801.2,516.3 801.8,515.0 802.8,514.7 803.9,513.4 804.5,515.0 806.2,518.3 807.3,513.5 808.0,511.7 808.7,511.6 810.3,510.9 811.1,513.8 812.0,515.7 813.7,524.2 815.3,532.3 816.3,535.7 817.0,538.3 818.7,533.1 819.4,530.6 820.3,525.2 822.0,517.7 823.7,519.1 824.5,520.7 825.3,522.5 827.0,528.8 827.6,533.4 828.3,538.9 829.5,547.1 830.7,548.9 832.0,551.4 832.8,552.0 833.7,551.7 835.3,555.0 836.7,550.0 837.8,556.2 838.7,565.5 839.5,568.3 841.2,562.5 842.1,561.2 842.8,561.4 844.5,554.7 845.2,554.8 846.2,553.6 847.0,554.5 848.7,556.7 849.3,553.1 850.3,547.2 851.4,545.0 852.0,539.3 853.7,534.0 854.5,534.8 855.3,535.3 857.0,531.0 857.8,525.5" fill="none" stroke="#e3244f" stroke-width="2.0" stroke-linejoin="round"/>
<polyline points="500.0,486.5 501.2,475.2 502.0,471.5 502.8,486.8 504.0,489.0 505.3,493.3 506.7,496.4 507.8,496.8 509.0,501.7 510.3,508.4 511.7,522.1 512.8,549.3 513.7,554.8 514.5,549.2 515.5,546.9 516.2,546.6 517.3,544.0 518.7,533.7 519.6,531.4 520.3,526.7 522.0,532.5 522.7,531.3 523.7,531.4 525.3,534.0 527.0,535.5 527.9,534.4 528.7,533.6 530.3,520.2 531.0,517.1 532.0,515.9 532.8,514.1 534.1,513.2 535.3,512.1 536.1,513.5 537.2,511.6 537.8,509.1 539.5,512.2 540.3,513.0 541.2,515.7 542.3,517.4 543.7,524.6 544.4,527.4 545.4,533.8 546.2,538.8 547.8,555.1 548.5,556.3 549.5,564.8 550.7,573.3 552.0,565.2 552.7,563.1 553.7,560.0 554.7,561.5 555.3,560.9 557.0,559.4 557.8,556.5 558.7,555.4 560.3,554.7 562.0,553.5 563.0,555.9 563.7,555.0 565.3,547.8 566.1,540.2 567.0,530.5 568.7,515.0 570.3,516.5 571.2,518.3 572.0,520.9 573.7,519.9 574.0,519.5 575.3,518.1 577.0,514.0 578.7,512.2 579.5,508.1 580.3,504.8 581.7,496.9 582.8,482.0 583.7,476.5 585.0,480.7 586.2,488.7 587.3,493.5 588.3,499.8 589.5,488.9 590.7,481.9 592.0,475.3 592.8,466.7 593.7,456.5 594.5,468.9 595.3,476.8 596.2,488.6 597.0,490.4 597.8,486.9 599.0,482.9 600.3,480.8 601.7,481.4 602.3,491.9 603.3,505.6 604.5,513.8 605.7,518.8 606.3,518.3 607.0,519.8 608.3,514.8 609.5,516.1 610.5,518.0 611.2,522.0 612.8,527.3 613.6,532.1 614.5,534.4 616.2,534.3 617.8,534.0 618.7,537.2 619.5,536.1 620.3,541.2 621.2,557.3 622.0,571.5 623.3,560.1 625.3,551.7 626.0,551.1 627.0,552.7 628.0,553.7 628.7,555.4 630.3,559.8 631.1,559.6 632.0,561.8 633.7,561.9 635.3,558.0 636.3,554.2 637.0,551.7 638.7,556.0 639.4,555.3 640.3,556.5 642.0,557.8 643.7,559.4 644.6,560.1 645.3,563.3 646.6,562.6 647.6,566.1 648.7,567.0 649.7,567.6 650.7,567.5 652.0,569.9 652.8,571.5 653.8,573.5 655.3,577.5 657.0,581.5 658.0,583.2 658.7,584.5 660.3,584.6 661.1,586.2 662.0,586.9 663.7,589.8 665.3,590.0 666.2,590.5 667.0,590.2 668.7,587.1 669.3,587.8 670.3,590.4 671.4,593.0 672.0,593.2 673.7,595.0 674.5,587.3 675.3,583.4 677.0,579.2 678.7,577.1 679.7,578.2 680.3,577.4 682.0,578.2 682.8,578.0 683.7,577.5 685.3,585.2 687.0,599.3 688.3,606.7 688.9,604.1 690.0,599.7 691.0,592.8 691.7,589.6 693.3,585.7 694.1,580.5 695.0,576.1 696.7,568.0 698.7,557.6 699.3,557.2 700.3,550.7 701.3,549.5 702.0,547.7 703.7,540.5 704.4,537.9 705.3,534.5 706.5,533.0 707.8,530.6 709.0,534.8 710.3,538.4 711.7,543.2 712.8,540.8 713.7,534.0 714.8,524.1 715.7,516.2 717.0,508.4 718.3,500.2 719.5,498.2 720.7,506.5 722.0,505.2 723.3,504.8 724.5,501.1 725.7,501.5 727.0,497.1 727.8,486.5 729.0,494.0 730.3,496.7 731.7,501.4 732.8,504.0 734.0,505.9 735.3,508.2 736.7,510.0 737.8,517.6 739.0,525.1 740.3,528.7 742.0,533.3 742.6,534.5 743.7,535.9 743.7,536.6 744.7,540.4 745.3,544.5 746.2,551.0 747.3,560.0 748.7,573.1 750.0,580.7 750.3,590.9 752.0,595.7 753.0,595.3 753.7,596.6 755.3,595.8 756.1,593.2 757.0,595.9 758.7,599.4 760.3,595.1 761.2,591.2 762.0,588.3 763.7,591.7 764.3,588.9 765.3,592.1 766.4,592.9 767.0,592.2 768.7,593.8 769.5,595.1 770.3,594.8 772.0,591.5 773.7,587.5 774.6,585.2 775.3,585.7 776.7,583.2 778.3,573.6 780.0,564.4 780.8,560.3 781.7,556.9 782.9,543.8 783.7,536.7 785.3,532.7 786.0,534.8 787.0,535.6 788.1,537.8 788.7,540.0 790.1,537.3 791.2,533.8 792.0,518.7 792.8,476.2 793.7,456.5 794.5,477.8 795.3,511.1 796.2,521.5 797.0,510.7 797.8,508.2 798.7,513.2 800.0,499.0 801.0,483.2 802.0,491.8 803.3,498.2 805.0,498.2 806.2,492.5 807.3,488.4 808.7,484.9 810.0,479.3 811.2,482.4 812.3,488.8 813.7,497.5 815.0,505.2 816.2,513.2 817.3,504.3 818.0,500.2 818.7,498.9 820.0,492.1 821.2,478.2 822.3,482.8 823.3,491.5 824.5,489.4 825.7,484.2 826.3,484.2 827.0,484.9 828.3,492.0 829.0,507.5 829.7,526.4 830.3,538.8 832.0,546.8 833.7,547.8 834.5,548.3 835.3,549.1 837.0,555.0 837.6,561.8 838.7,569.9 839.7,570.3 840.3,570.6 842.0,568.8 842.8,566.2 843.7,566.2 845.3,560.3 847.0,555.0 848.0,557.5 848.7,558.3 850.3,543.6 851.1,534.8 852.0,522.3 853.7,512.3 855.3,511.8 856.2,508.1 857.0,507.6" fill="none" stroke="#e6b02c" stroke-width="2.0" stroke-linejoin="round"/>
<polyline points="498.7,502.2 500.0,476.8 501.2,461.3 502.0,460.0 502.8,474.0 504.0,488.1 505.3,494.6 506.7,498.2 507.8,502.1 509.0,510.3 510.3,519.8 511.1,528.5 511.7,537.3 513.2,580.0 514.5,570.0 515.7,575.0 517.0,565.4 518.3,563.0 519.5,555.7 520.4,554.6 521.2,555.7 522.8,558.0 523.5,559.9 524.5,563.3 525.5,560.7 526.2,558.2 527.8,555.8 528.7,551.2 530.0,534.1 531.2,523.3 532.3,528.8 533.7,536.7 535.3,533.0 537.0,528.4 537.9,524.4 538.7,522.5 540.3,519.8 541.0,519.4 541.7,519.4 542.8,522.1 544.5,528.1 545.1,529.5 546.2,533.6 547.2,537.1 547.8,540.7 549.5,546.6 550.7,560.0 551.3,557.7 552.0,556.2 553.7,550.0 555.0,552.0 556.2,554.8 557.8,558.3 558.6,558.3 559.5,557.8 561.2,555.1 562.8,555.1 563.7,552.3 564.5,552.2 566.2,546.6 567.3,533.1 568.7,517.3 570.0,515.0 570.9,520.0 571.7,522.6 573.3,532.1 574.0,536.9 575.0,543.3 576.7,542.0 578.3,538.5 579.2,535.5 580.0,534.9 581.7,530.6 582.8,522.2 583.7,521.7 584.4,525.8 585.0,530.7 586.7,536.7 587.5,534.7 588.3,533.0 590.0,529.5 591.7,526.3 592.8,522.3 594.0,521.7 595.0,528.3 596.2,538.6 597.0,540.4 597.8,548.2 599.0,550.0 600.3,545.0 601.7,547.9 602.8,559.8 604.0,574.4 605.3,583.8 606.1,586.1 606.7,588.3 607.8,581.6 609.5,579.5 610.2,579.6 611.2,578.2 612.8,575.0 614.5,578.7 615.3,576.3 616.2,575.2 617.8,571.9 618.4,572.4 619.5,570.0 620.3,579.9 621.7,593.3 622.8,583.3 623.6,580.7 624.5,583.4 626.2,584.9 627.8,587.2 628.8,589.0 629.5,590.4 631.2,594.5 631.9,598.7 632.8,598.2 634.0,605.0 635.3,598.7 636.0,596.6 637.0,593.1 637.8,590.0 639.5,591.8 640.1,593.5 641.2,594.9 642.2,592.3 642.8,593.7 644.5,595.3 645.3,596.8 646.2,600.0 647.8,597.8 649.5,598.6 650.4,598.8 651.2,597.8 652.8,602.8 653.5,604.6 654.5,608.5 656.2,613.9 657.8,619.1 658.7,621.1 659.5,621.9 661.2,625.5 661.8,626.3 662.8,628.8 663.9,630.3 664.5,630.8 666.2,634.7 667.3,636.9 668.3,645.0 669.5,636.7 670.7,637.6 672.0,640.8 673.3,643.3 674.5,634.4 675.2,629.8 676.2,625.9 677.8,622.9 679.5,618.6 680.4,616.3 681.2,618.3 682.8,614.4 684.0,608.3 685.3,614.2 686.7,625.9 687.8,633.3 689.0,632.0 689.7,629.0 690.3,625.9 692.0,619.1 693.3,614.7 695.0,611.5 695.9,613.8 696.7,615.0 698.3,612.1 699.0,612.3 700.0,610.2 701.0,610.9 701.7,610.6 703.3,612.5 704.1,609.6 705.0,607.9 706.7,610.1 708.3,614.8 709.3,612.3 710.0,614.5 711.7,616.5 712.8,618.3 714.0,613.6 715.3,601.6 717.0,595.7 718.7,588.9 719.7,588.3 720.7,596.7 722.0,595.4 722.7,593.8 723.7,595.4 725.3,597.4 726.7,600.0 727.8,576.7 729.0,580.5 730.0,589.7 731.2,594.4 732.3,598.1 733.0,598.7 733.7,599.7 735.3,602.6 736.1,603.0 737.0,606.3 738.7,610.2 740.3,612.9 741.3,615.0 742.0,616.3 743.7,621.4 744.4,621.0 745.3,624.1 746.2,629.0 747.3,640.0 748.7,643.9 750.0,649.0 751.2,660.1 752.0,665.0 752.7,660.8 753.3,658.8 755.0,656.8 755.8,654.8 756.7,652.9 757.0,650.3 757.8,649.5 758.7,650.7 760.3,646.1 761.7,636.3 762.8,628.3 764.5,631.3 766.2,632.7 767.1,636.8 767.8,636.1 769.5,640.3 770.2,638.8 771.2,636.5 772.8,631.2 774.5,630.0 775.7,635.0 776.7,628.2 777.4,623.4 778.3,623.7 780.0,622.8 781.7,617.8 782.8,608.6 784.0,595.2 785.0,588.3 786.2,596.6 787.0,610.2 788.0,619.4 788.8,621.0 789.5,621.7 791.2,622.4 792.0,611.7 792.8,573.1 793.7,551.7 794.5,573.7 795.3,616.6 796.0,631.7 797.0,612.3 797.8,611.7 798.7,620.0 800.0,600.2 801.0,586.7 802.0,596.2 803.3,600.9 804.3,601.2 805.0,601.7 806.7,595.0 807.4,592.4 808.3,587.3 810.0,585.8 811.2,587.4 812.3,592.3 813.7,604.2 815.0,615.5 816.2,626.7 817.3,616.0 818.7,609.0 820.0,598.6 821.2,585.0 822.3,587.2 823.3,596.7 824.5,592.4 825.7,591.9 827.0,592.6 828.3,598.4 829.0,621.8 829.7,639.3 830.7,653.3 831.7,646.7 832.8,652.3 834.0,660.0 835.3,649.2 836.7,646.7 837.8,667.4 838.7,679.4 839.5,684.2 840.4,680.4 841.2,678.8 842.8,674.1 843.5,671.9 844.5,668.6 846.2,659.6 847.3,659.1 848.7,667.6 849.7,671.7 850.7,654.3 851.7,641.1 852.8,624.7 854.0,621.5 855.3,620.2 856.7,612.4 857.8,604.0" fill="none" stroke="#74a733" stroke-width="2.0" stroke-linejoin="round"/>
<polyline points="498.7,497.5 500.0,484.3 501.2,473.6 502.0,470.0 502.8,482.8 504.0,489.8 505.3,492.5 506.7,495.2 507.8,494.5 509.0,501.0 510.3,505.6 511.1,514.7 511.7,519.0 512.8,550.6 513.7,553.3 514.5,547.5 515.2,547.6 516.2,543.9 517.3,544.5 518.7,533.4 519.3,527.1 520.3,520.0 521.4,520.9 522.0,522.6 523.7,527.2 524.5,527.4 525.3,529.0 527.0,533.3 528.7,528.4 530.0,515.0 531.2,510.0 532.8,511.6 533.8,512.1 534.5,510.4 536.2,507.8 536.9,506.4 537.8,505.5 539.5,503.8 540.7,507.4 542.0,511.2 543.1,515.6 543.7,518.8 545.3,523.7 546.7,532.1 547.0,539.6 548.7,550.6 550.3,561.7 551.7,557.1 552.4,553.1 553.3,546.2 554.4,544.3 555.3,543.3 556.5,547.5 557.3,548.3 559.0,545.3 561.2,546.0 562.7,545.8 563.3,545.8 565.3,540.3 566.7,522.2 567.8,510.5 569.0,505.0 570.3,509.5 570.9,511.3 571.7,512.6 572.8,513.4 574.0,518.0 575.3,515.8 576.1,513.0 577.0,512.1 578.7,510.8 580.3,503.9 581.7,496.2 582.8,480.6 583.7,475.0 584.4,478.4 585.0,478.9 586.2,486.4 587.3,490.6 588.3,498.3 589.5,486.7 590.7,480.3 592.0,473.7 592.8,464.9 593.7,455.0 594.5,465.9 595.3,476.1 596.2,487.2 597.0,491.6 597.8,486.9 599.0,482.0 600.3,478.6 601.7,479.2 602.3,487.5 603.3,501.9 604.5,510.3 605.7,515.9 607.0,518.3 608.3,513.3 609.5,514.9 610.2,517.8 611.2,520.9 612.8,527.5 614.5,533.2 615.3,532.8 616.2,533.3 617.8,533.0 618.4,534.5 619.5,535.3 620.3,540.0 621.2,555.5 622.0,570.0 623.3,560.5 624.5,551.7 626.2,545.9 627.8,543.5 628.8,545.5 629.5,546.0 630.3,548.4 632.0,553.2 632.9,555.0 633.7,555.0 635.3,545.6 636.2,541.7 637.3,549.8 638.1,550.7 639.0,551.2 640.7,552.3 642.3,554.6 643.2,555.9 644.0,557.2 645.7,557.4 646.3,557.9 647.3,558.4 648.4,560.7 649.0,561.1 650.7,561.8 651.5,566.4 652.3,564.3 654.0,567.2 655.7,567.6 657.0,573.2 657.7,573.9 658.7,574.7 660.3,575.2 662.0,578.3 662.8,578.5 663.7,580.1 665.3,582.7 665.9,582.2 667.0,583.3 668.0,579.8 668.7,575.3 670.0,573.3 671.2,582.1 672.3,586.7 673.7,578.4 675.3,576.1 676.3,573.9 677.0,574.3 678.7,573.0 679.4,571.9 680.3,570.6 682.0,570.0 683.7,569.4 684.5,571.9 685.7,584.7 687.0,593.2 687.6,593.7 688.3,598.3 689.5,592.6 690.7,585.9 692.0,580.9 692.8,577.9 693.7,575.1 695.3,574.4 696.7,563.8 697.8,554.7 699.0,550.6 700.3,547.7 701.0,548.8 701.7,545.2 702.8,542.3 704.0,536.8 705.3,527.7 706.7,525.6 707.8,530.3 709.0,533.0 710.3,536.1 711.7,541.7 712.8,539.7 713.7,531.1 714.8,523.4 715.7,515.4 717.0,508.8 718.3,499.6 719.5,496.7 720.7,505.0 722.0,502.4 722.7,501.6 723.3,501.6 724.5,500.1 725.7,500.3 727.0,495.4 727.8,485.0 729.0,495.2 730.3,495.9 731.0,495.9 731.7,499.2 732.8,503.1 734.0,506.5 735.3,505.9 736.7,507.1 737.8,514.0 739.0,522.8 740.3,528.2 741.3,529.7 742.0,531.9 743.7,535.4 744.4,537.2 745.3,541.0 746.2,550.5 747.3,561.0 748.7,570.9 750.0,579.9 751.2,587.4 752.3,589.7 753.7,589.7 755.3,588.4 757.0,587.2 757.8,588.2 758.7,590.0 760.3,582.5 762.0,577.7 763.0,575.4 763.7,577.6 765.3,581.7 766.1,579.8 767.0,580.5 768.7,583.0 770.3,580.0 771.3,578.9 772.0,577.6 773.7,576.0 774.3,575.6 775.3,575.5 776.7,574.5 777.8,565.4 778.5,561.3 779.5,557.3 780.5,552.4 781.2,548.2 782.8,532.0 784.0,514.3 785.0,495.0 786.2,498.7 787.0,510.7 787.8,523.0 788.7,533.0 790.0,536.0 791.2,533.7 792.0,516.4 792.8,474.5 793.7,455.0 794.5,476.1 795.3,509.3 796.2,520.0 797.0,509.9 797.8,506.7 798.7,511.7 800.0,497.1 801.0,481.7 802.0,489.9 803.3,495.5 804.3,496.7 805.0,496.7 806.2,491.3 807.3,486.9 808.7,481.9 810.0,479.6 811.2,482.2 812.3,489.7 813.7,496.7 815.0,503.2 816.2,511.7 817.3,503.2 818.7,495.6 820.0,490.5 821.2,476.7 822.3,479.8 823.3,490.0 824.5,488.7 825.7,483.1 827.0,483.8 828.3,490.1 829.0,505.0 829.7,523.7 830.3,533.3 831.7,530.0 832.8,535.4 834.0,543.3 835.3,534.2 836.7,533.3 837.8,556.6 838.7,564.9 839.5,568.1 840.4,567.0 841.2,563.4 842.8,561.9 843.5,559.9 844.5,558.5 845.7,547.6 847.0,543.3 847.7,547.3 848.3,549.1 849.5,555.0 850.7,534.0 852.0,517.5 853.3,511.5 855.0,510.6 856.2,503.6 857.0,496.5 857.8,490.7" fill="none" stroke="#1d64a0" stroke-width="2.0" stroke-linejoin="round"/>
<line x1="499.5" y1="422.5" x2="499.5" y2="723.0" stroke="#5a5a5a" stroke-width="1.2"/>
<line x1="499.0" y1="722.5" x2="872.2" y2="722.5" stroke="#5a5a5a" stroke-width="1.2"/>
<line x1="491.5" y1="722.5" x2="499.5" y2="722.5" stroke="#5a5a5a" stroke-width="1.2"/>
<text x="486.5" y="730.0" text-anchor="end" class="tk">-1.5</text>
<line x1="495.5" y1="712.5" x2="499.5" y2="712.5" stroke="#5a5a5a" stroke-width="1.2"/>
<line x1="495.5" y1="701.5" x2="499.5" y2="701.5" stroke="#5a5a5a" stroke-width="1.2"/>
<line x1="495.5" y1="690.5" x2="499.5" y2="690.5" stroke="#5a5a5a" stroke-width="1.2"/>
<line x1="491.5" y1="680.5" x2="499.5" y2="680.5" stroke="#5a5a5a" stroke-width="1.2"/>
<text x="486.5" y="687.1" text-anchor="end" class="tk">-1</text>
<line x1="495.5" y1="669.5" x2="499.5" y2="669.5" stroke="#5a5a5a" stroke-width="1.2"/>
<line x1="495.5" y1="658.5" x2="499.5" y2="658.5" stroke="#5a5a5a" stroke-width="1.2"/>
<line x1="495.5" y1="647.5" x2="499.5" y2="647.5" stroke="#5a5a5a" stroke-width="1.2"/>
<line x1="491.5" y1="637.5" x2="499.5" y2="637.5" stroke="#5a5a5a" stroke-width="1.2"/>
<text x="486.5" y="644.1" text-anchor="end" class="tk">-0.5</text>
<line x1="495.5" y1="626.5" x2="499.5" y2="626.5" stroke="#5a5a5a" stroke-width="1.2"/>
<line x1="495.5" y1="615.5" x2="499.5" y2="615.5" stroke="#5a5a5a" stroke-width="1.2"/>
<line x1="495.5" y1="604.5" x2="499.5" y2="604.5" stroke="#5a5a5a" stroke-width="1.2"/>
<line x1="491.5" y1="594.5" x2="499.5" y2="594.5" stroke="#5a5a5a" stroke-width="1.2"/>
<text x="486.5" y="601.2" text-anchor="end" class="tk">0</text>
<line x1="495.5" y1="583.5" x2="499.5" y2="583.5" stroke="#5a5a5a" stroke-width="1.2"/>
<line x1="495.5" y1="572.5" x2="499.5" y2="572.5" stroke="#5a5a5a" stroke-width="1.2"/>
<line x1="495.5" y1="562.5" x2="499.5" y2="562.5" stroke="#5a5a5a" stroke-width="1.2"/>
<line x1="491.5" y1="551.5" x2="499.5" y2="551.5" stroke="#5a5a5a" stroke-width="1.2"/>
<text x="486.5" y="558.3" text-anchor="end" class="tk">0.5</text>
<line x1="495.5" y1="540.5" x2="499.5" y2="540.5" stroke="#5a5a5a" stroke-width="1.2"/>
<line x1="495.5" y1="529.5" x2="499.5" y2="529.5" stroke="#5a5a5a" stroke-width="1.2"/>
<line x1="495.5" y1="519.5" x2="499.5" y2="519.5" stroke="#5a5a5a" stroke-width="1.2"/>
<line x1="491.5" y1="508.5" x2="499.5" y2="508.5" stroke="#5a5a5a" stroke-width="1.2"/>
<text x="486.5" y="515.4" text-anchor="end" class="tk">1</text>
<line x1="495.5" y1="497.5" x2="499.5" y2="497.5" stroke="#5a5a5a" stroke-width="1.2"/>
<line x1="495.5" y1="486.5" x2="499.5" y2="486.5" stroke="#5a5a5a" stroke-width="1.2"/>
<line x1="495.5" y1="476.5" x2="499.5" y2="476.5" stroke="#5a5a5a" stroke-width="1.2"/>
<line x1="491.5" y1="465.5" x2="499.5" y2="465.5" stroke="#5a5a5a" stroke-width="1.2"/>
<text x="486.5" y="472.4" text-anchor="end" class="tk">1.5</text>
<line x1="495.5" y1="454.5" x2="499.5" y2="454.5" stroke="#5a5a5a" stroke-width="1.2"/>
<line x1="495.5" y1="443.5" x2="499.5" y2="443.5" stroke="#5a5a5a" stroke-width="1.2"/>
<line x1="495.5" y1="433.5" x2="499.5" y2="433.5" stroke="#5a5a5a" stroke-width="1.2"/>
<line x1="491.5" y1="422.5" x2="499.5" y2="422.5" stroke="#5a5a5a" stroke-width="1.2"/>
<text x="486.5" y="429.5" text-anchor="end" class="tk">2</text>
<line x1="499.5" y1="722.5" x2="499.5" y2="730.5" stroke="#5a5a5a" stroke-width="1.2"/>
<text x="499.9" y="752.9" text-anchor="middle" class="tk">1985</text>
<line x1="515.5" y1="722.5" x2="515.5" y2="726.5" stroke="#5a5a5a" stroke-width="1.2"/>
<line x1="530.5" y1="722.5" x2="530.5" y2="726.5" stroke="#5a5a5a" stroke-width="1.2"/>
<line x1="546.5" y1="722.5" x2="546.5" y2="726.5" stroke="#5a5a5a" stroke-width="1.2"/>
<line x1="561.5" y1="722.5" x2="561.5" y2="730.5" stroke="#5a5a5a" stroke-width="1.2"/>
<text x="561.9" y="752.9" text-anchor="middle" class="tk">1990</text>
<line x1="577.5" y1="722.5" x2="577.5" y2="726.5" stroke="#5a5a5a" stroke-width="1.2"/>
<line x1="592.5" y1="722.5" x2="592.5" y2="726.5" stroke="#5a5a5a" stroke-width="1.2"/>
<line x1="608.5" y1="722.5" x2="608.5" y2="726.5" stroke="#5a5a5a" stroke-width="1.2"/>
<line x1="623.5" y1="722.5" x2="623.5" y2="730.5" stroke="#5a5a5a" stroke-width="1.2"/>
<text x="623.8" y="752.9" text-anchor="middle" class="tk">1995</text>
<line x1="639.5" y1="722.5" x2="639.5" y2="726.5" stroke="#5a5a5a" stroke-width="1.2"/>
<line x1="654.5" y1="722.5" x2="654.5" y2="726.5" stroke="#5a5a5a" stroke-width="1.2"/>
<line x1="670.5" y1="722.5" x2="670.5" y2="726.5" stroke="#5a5a5a" stroke-width="1.2"/>
<line x1="685.5" y1="722.5" x2="685.5" y2="730.5" stroke="#5a5a5a" stroke-width="1.2"/>
<text x="685.8" y="752.9" text-anchor="middle" class="tk">2000</text>
<line x1="701.5" y1="722.5" x2="701.5" y2="726.5" stroke="#5a5a5a" stroke-width="1.2"/>
<line x1="716.5" y1="722.5" x2="716.5" y2="726.5" stroke="#5a5a5a" stroke-width="1.2"/>
<line x1="732.5" y1="722.5" x2="732.5" y2="726.5" stroke="#5a5a5a" stroke-width="1.2"/>
<line x1="747.5" y1="722.5" x2="747.5" y2="730.5" stroke="#5a5a5a" stroke-width="1.2"/>
<text x="747.7" y="752.9" text-anchor="middle" class="tk">2005</text>
<line x1="763.5" y1="722.5" x2="763.5" y2="726.5" stroke="#5a5a5a" stroke-width="1.2"/>
<line x1="778.5" y1="722.5" x2="778.5" y2="726.5" stroke="#5a5a5a" stroke-width="1.2"/>
<line x1="794.5" y1="722.5" x2="794.5" y2="726.5" stroke="#5a5a5a" stroke-width="1.2"/>
<line x1="809.5" y1="722.5" x2="809.5" y2="730.5" stroke="#5a5a5a" stroke-width="1.2"/>
<text x="809.7" y="752.9" text-anchor="middle" class="tk">2010</text>
<line x1="825.5" y1="722.5" x2="825.5" y2="726.5" stroke="#5a5a5a" stroke-width="1.2"/>
<line x1="840.5" y1="722.5" x2="840.5" y2="726.5" stroke="#5a5a5a" stroke-width="1.2"/>
<line x1="856.5" y1="722.5" x2="856.5" y2="726.5" stroke="#5a5a5a" stroke-width="1.2"/>
<line x1="871.5" y1="722.5" x2="871.5" y2="730.5" stroke="#5a5a5a" stroke-width="1.2"/>
<text x="871.6" y="752.9" text-anchor="middle" class="tk">2015</text>
<text x="685.0" y="413.7" text-anchor="middle" class="tt" textLength="288.9" lengthAdjust="spacingAndGlyphs">7-year excess return of a 10-year bond</text>
<line x1="169.4" y1="819.5" x2="198" y2="819.5" stroke="#1d64a0" stroke-width="2"/>
<text x="201" y="824.4" class="lg" textLength="56.6" lengthAdjust="spacingAndGlyphs">Baseline</text>
<line x1="263.8" y1="819.5" x2="292.3" y2="819.5" stroke="#e3244f" stroke-width="2"/>
<text x="295" y="824.4" class="lg" textLength="76.7" lengthAdjust="spacingAndGlyphs">Diagonal Φ</text>
<line x1="378" y1="819.5" x2="406.7" y2="819.5" stroke="#e6b02c" stroke-width="2"/>
<text x="410" y="824.4" class="lg" textLength="74.3" lengthAdjust="spacingAndGlyphs">Diagonal Γ</text>
<line x1="491.2" y1="819.5" x2="519.6" y2="819.5" stroke="#74a733" stroke-width="2"/>
<text x="522.8" y="824.4" class="lg" textLength="187.7" lengthAdjust="spacingAndGlyphs">Only mkt price of level risk</text>
</svg>
</body></html>
